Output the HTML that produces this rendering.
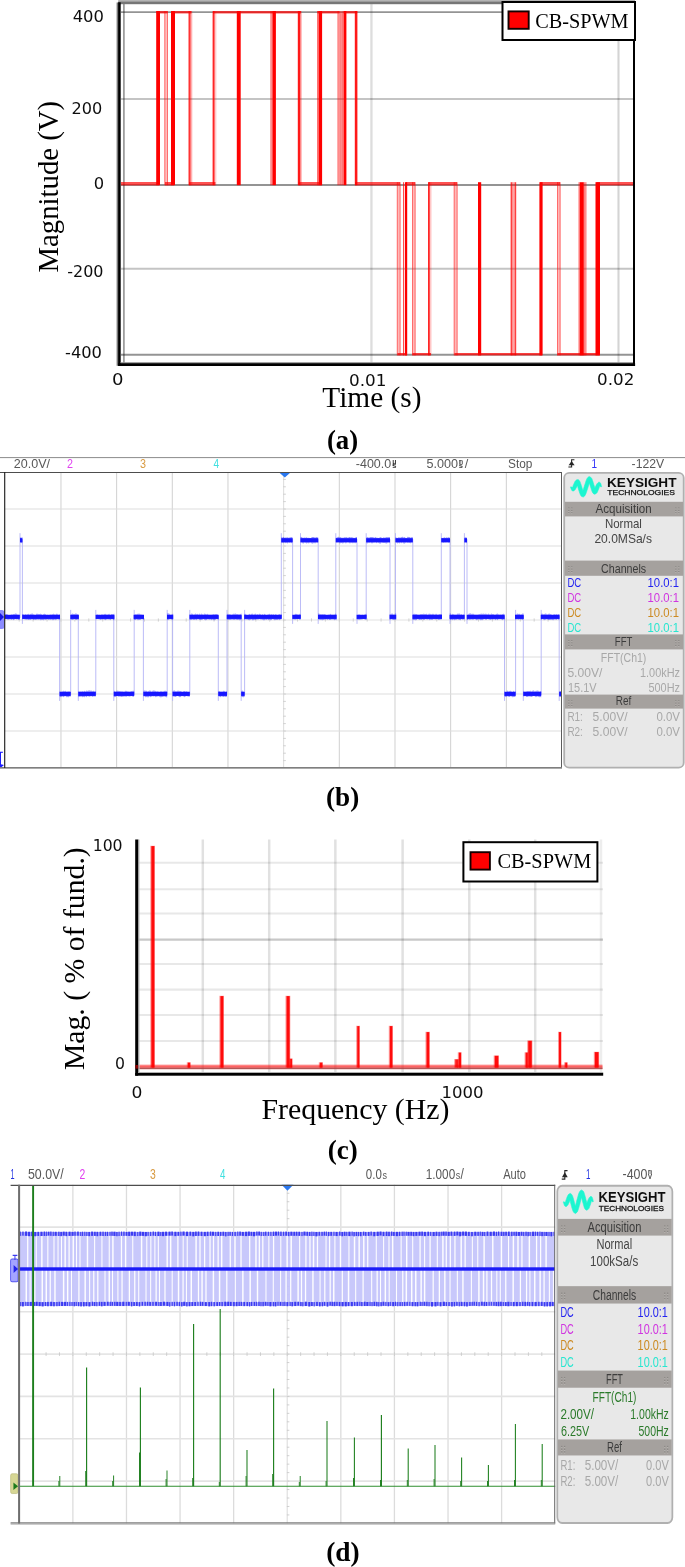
<!DOCTYPE html>
<html lang="en"><head><meta charset="utf-8"><title>CB-SPWM inverter output: simulation and experiment</title>
<style>html,body{margin:0;padding:0;background:#fff}svg{display:block}</style></head><body>
<svg width="685" height="1567" viewBox="0 0 685 1567">
<defs><filter id="soft" x="0" y="0" width="685" height="1567" filterUnits="userSpaceOnUse"><feGaussianBlur stdDeviation="0.42"/></filter></defs>
<rect x="0" y="0" width="685" height="1567" fill="#fff"/>
<g filter="url(#soft)">
<g id="pa">
<line x1="121.00" y1="12.10" x2="633.00" y2="12.10" stroke="#000" stroke-width="1.9" opacity="0.42"/>
<line x1="121.00" y1="98.90" x2="633.00" y2="98.90" stroke="#000" stroke-width="2.0" opacity="0.23"/>
<line x1="121.00" y1="185.00" x2="633.00" y2="185.00" stroke="#000" stroke-width="1.9" opacity="0.42"/>
<line x1="121.00" y1="268.80" x2="633.00" y2="268.80" stroke="#000" stroke-width="2.0" opacity="0.23"/>
<line x1="121.00" y1="354.70" x2="633.00" y2="354.70" stroke="#000" stroke-width="1.9" opacity="0.42"/>
<line x1="123.90" y1="4.00" x2="123.90" y2="363.00" stroke="#000" stroke-width="1.7" opacity="0.4"/>
<line x1="371.45" y1="4.00" x2="371.45" y2="363.00" stroke="#000" stroke-width="2.3" opacity="0.135"/>
<line x1="618.50" y1="4.00" x2="618.50" y2="363.00" stroke="#000" stroke-width="2.1" opacity="0.17"/>
<rect x="156.50" y="11.05" width="11.00" height="2.40" fill="#ff0000" opacity="0.72"/>
<rect x="171.50" y="11.05" width="20.00" height="2.40" fill="#ff0000" opacity="0.72"/>
<rect x="213.00" y="11.05" width="88.00" height="2.40" fill="#ff0000" opacity="0.72"/>
<rect x="317.50" y="11.05" width="22.10" height="2.40" fill="#ff0000" opacity="0.72"/>
<rect x="343.60" y="11.05" width="13.60" height="2.40" fill="#ff0000" opacity="0.72"/>
<rect x="121.00" y="182.00" width="38.00" height="3.40" fill="#ff0000" opacity="0.68"/>
<rect x="165.00" y="182.00" width="9.00" height="3.40" fill="#ff0000" opacity="0.68"/>
<rect x="189.00" y="182.00" width="26.50" height="3.40" fill="#ff0000" opacity="0.68"/>
<rect x="298.50" y="182.00" width="23.50" height="3.40" fill="#ff0000" opacity="0.68"/>
<rect x="355.00" y="182.00" width="45.00" height="3.40" fill="#ff0000" opacity="0.68"/>
<rect x="406.00" y="182.00" width="9.00" height="3.40" fill="#ff0000" opacity="0.68"/>
<rect x="428.50" y="182.00" width="28.50" height="3.40" fill="#ff0000" opacity="0.68"/>
<rect x="540.00" y="182.00" width="20.00" height="3.40" fill="#ff0000" opacity="0.68"/>
<rect x="596.50" y="182.00" width="37.50" height="3.40" fill="#ff0000" opacity="0.68"/>
<rect x="397.50" y="353.00" width="9.50" height="2.40" fill="#ff0000" opacity="0.72"/>
<rect x="412.50" y="353.00" width="18.50" height="2.40" fill="#ff0000" opacity="0.72"/>
<rect x="454.50" y="353.00" width="87.50" height="2.40" fill="#ff0000" opacity="0.72"/>
<rect x="557.50" y="353.00" width="42.00" height="2.40" fill="#ff0000" opacity="0.72"/>
<rect x="156.20" y="11.05" width="3.80" height="174.15" fill="#ff0000" opacity="1"/>
<rect x="164.30" y="11.05" width="3.70" height="174.15" fill="#ff0000" opacity="0.26"/>
<rect x="164.30" y="11.05" width="1.00" height="174.15" fill="#ff0000" opacity="0.42"/>
<rect x="167.00" y="11.05" width="1.00" height="174.15" fill="#ff0000" opacity="0.42"/>
<rect x="171.00" y="11.05" width="4.00" height="174.15" fill="#ff0000" opacity="1"/>
<rect x="188.50" y="11.05" width="2.10" height="174.15" fill="#ff0000" opacity="0.8"/>
<rect x="190.60" y="11.05" width="1.70" height="174.15" fill="#ff0000" opacity="0.3"/>
<rect x="212.60" y="11.05" width="2.00" height="174.15" fill="#ff0000" opacity="0.85"/>
<rect x="214.60" y="11.05" width="1.80" height="174.15" fill="#ff0000" opacity="0.2"/>
<rect x="236.80" y="11.05" width="3.90" height="174.15" fill="#ff0000" opacity="1"/>
<rect x="270.20" y="11.05" width="2.20" height="174.15" fill="#ff0000" opacity="0.45"/>
<rect x="272.40" y="11.05" width="3.50" height="174.15" fill="#ff0000" opacity="1"/>
<rect x="297.80" y="11.05" width="2.60" height="174.15" fill="#ff0000" opacity="0.9"/>
<rect x="300.40" y="11.05" width="1.40" height="174.15" fill="#ff0000" opacity="0.3"/>
<rect x="317.00" y="11.05" width="1.60" height="174.15" fill="#ff0000" opacity="0.55"/>
<rect x="318.60" y="11.05" width="3.50" height="174.15" fill="#ff0000" opacity="1"/>
<rect x="337.30" y="11.05" width="2.10" height="174.15" fill="#ff0000" opacity="0.46"/>
<rect x="339.40" y="11.05" width="2.10" height="174.15" fill="#ff0000" opacity="0.5"/>
<rect x="341.50" y="11.05" width="2.10" height="174.15" fill="#ff0000" opacity="0.54"/>
<rect x="343.60" y="11.05" width="2.80" height="174.15" fill="#ff0000" opacity="1"/>
<rect x="354.80" y="11.05" width="2.60" height="174.15" fill="#ff0000" opacity="0.9"/>
<rect x="396.80" y="182.20" width="3.80" height="173.20" fill="#ff0000" opacity="0.28"/>
<rect x="396.80" y="182.20" width="1.00" height="173.20" fill="#ff0000" opacity="0.42"/>
<rect x="399.60" y="182.20" width="1.00" height="173.20" fill="#ff0000" opacity="0.42"/>
<rect x="403.00" y="182.20" width="1.20" height="173.20" fill="#ff0000" opacity="0.7"/>
<rect x="405.00" y="182.20" width="2.20" height="173.20" fill="#ff0000" opacity="1"/>
<rect x="412.00" y="182.20" width="3.60" height="173.20" fill="#ff0000" opacity="0.28"/>
<rect x="412.00" y="182.20" width="1.00" height="173.20" fill="#ff0000" opacity="0.42"/>
<rect x="414.60" y="182.20" width="1.00" height="173.20" fill="#ff0000" opacity="0.42"/>
<rect x="428.00" y="182.20" width="1.80" height="173.20" fill="#ff0000" opacity="0.85"/>
<rect x="429.80" y="182.20" width="1.70" height="173.20" fill="#ff0000" opacity="0.22"/>
<rect x="453.70" y="182.20" width="3.90" height="173.20" fill="#ff0000" opacity="0.28"/>
<rect x="453.70" y="182.20" width="1.00" height="173.20" fill="#ff0000" opacity="0.42"/>
<rect x="456.60" y="182.20" width="1.00" height="173.20" fill="#ff0000" opacity="0.42"/>
<rect x="478.00" y="182.20" width="3.20" height="173.20" fill="#ff0000" opacity="1"/>
<rect x="510.60" y="182.20" width="1.80" height="173.20" fill="#ff0000" opacity="0.75"/>
<rect x="512.40" y="182.20" width="2.20" height="173.20" fill="#ff0000" opacity="0.35"/>
<rect x="514.60" y="182.20" width="1.60" height="173.20" fill="#ff0000" opacity="0.75"/>
<rect x="539.40" y="182.20" width="3.20" height="173.20" fill="#ff0000" opacity="1"/>
<rect x="557.00" y="182.20" width="3.60" height="173.20" fill="#ff0000" opacity="0.28"/>
<rect x="557.00" y="182.20" width="1.00" height="173.20" fill="#ff0000" opacity="0.42"/>
<rect x="559.60" y="182.20" width="1.00" height="173.20" fill="#ff0000" opacity="0.42"/>
<rect x="578.30" y="182.20" width="1.30" height="173.20" fill="#ff0000" opacity="0.4"/>
<rect x="579.60" y="182.20" width="4.20" height="173.20" fill="#ff0000" opacity="1"/>
<rect x="583.80" y="182.20" width="2.60" height="173.20" fill="#ff0000" opacity="0.25"/>
<rect x="583.80" y="182.20" width="1.00" height="173.20" fill="#ff0000" opacity="0.42"/>
<rect x="585.40" y="182.20" width="1.00" height="173.20" fill="#ff0000" opacity="0.42"/>
<rect x="595.50" y="182.20" width="4.50" height="173.20" fill="#ff0000" opacity="1"/>
<rect x="118.20" y="-1.00" width="516.80" height="2.50" fill="#b4b4b4"/>
<rect x="118.20" y="1.40" width="516.80" height="2.80" fill="#767676"/>
<rect x="116.30" y="2.50" width="0.90" height="363.30" fill="#b4b4b4"/>
<rect x="117.20" y="2.50" width="1.00" height="363.30" fill="#5a5a5a"/>
<rect x="118.10" y="2.30" width="2.60" height="363.60" fill="#000"/>
<rect x="120.60" y="362.20" width="512.40" height="1.00" fill="#8e8e8e"/>
<rect x="118.20" y="363.20" width="516.90" height="2.80" fill="#000"/>
<rect x="633.00" y="1.00" width="2.00" height="365.00" fill="#000"/>
<rect x="502.5" y="2" width="132.5" height="38" fill="#fff" stroke="#000" stroke-width="2"/>
<rect x="508.5" y="11.4" width="20.2" height="17.4" fill="#ff0000" stroke="#140000" stroke-width="1.9"/>
<text x="535.2" y="27.6" font-family="'Liberation Serif','Times New Roman',serif" font-size="20" fill="#000" textLength="93.4" lengthAdjust="spacingAndGlyphs">CB-SPWM</text>
<text x="72.7" y="22.1" font-family="'DejaVu Sans','Liberation Sans',sans-serif" font-size="16.2" fill="#111" textLength="31.3" lengthAdjust="spacingAndGlyphs">400</text>
<text x="71.5" y="114.2" font-family="'DejaVu Sans','Liberation Sans',sans-serif" font-size="16.2" fill="#111" textLength="30.8" lengthAdjust="spacingAndGlyphs">200</text>
<text x="93.8" y="188.9" font-family="'DejaVu Sans','Liberation Sans',sans-serif" font-size="16.2" fill="#111" textLength="10.4" lengthAdjust="spacingAndGlyphs">0</text>
<text x="67.3" y="276.8" font-family="'DejaVu Sans','Liberation Sans',sans-serif" font-size="16.2" fill="#111" textLength="36.2" lengthAdjust="spacingAndGlyphs">-200</text>
<text x="65.0" y="358" font-family="'DejaVu Sans','Liberation Sans',sans-serif" font-size="16.2" fill="#111" textLength="37.0" lengthAdjust="spacingAndGlyphs">-400</text>
<text x="112.0" y="384.6" font-family="'DejaVu Sans','Liberation Sans',sans-serif" font-size="16.2" fill="#111" textLength="11.5" lengthAdjust="spacingAndGlyphs">0</text>
<text x="349.0" y="385.7" font-family="'DejaVu Sans','Liberation Sans',sans-serif" font-size="16.2" fill="#111" textLength="37.5" lengthAdjust="spacingAndGlyphs">0.01</text>
<text x="597.0" y="385.4" font-family="'DejaVu Sans','Liberation Sans',sans-serif" font-size="16.2" fill="#111" textLength="37.3" lengthAdjust="spacingAndGlyphs">0.02</text>
<text x="371.9" y="407" font-family="'Liberation Serif','Times New Roman',serif" font-size="28.5" fill="#000" text-anchor="middle" textLength="99.2" lengthAdjust="spacingAndGlyphs">Time (s)</text>
<text transform="translate(58,186.7) rotate(-90)" font-family="'Liberation Serif','Times New Roman',serif" font-size="28.5" text-anchor="middle" textLength="171.6" lengthAdjust="spacingAndGlyphs">Magnitude (V)</text>
<text x="342.5" y="449.2" font-family="'Liberation Serif','Times New Roman',serif" font-size="26.8" fill="#000" text-anchor="middle" font-weight="bold">(a)</text>
</g>
<g id="pb">
<line x1="0.00" y1="457.60" x2="685.00" y2="457.60" stroke="#8c8c8c" stroke-width="1.0"/>
<line x1="60.97" y1="472.00" x2="60.97" y2="768.00" stroke="#cdcdcd" stroke-width="0.95"/>
<line x1="116.64" y1="472.00" x2="116.64" y2="768.00" stroke="#cdcdcd" stroke-width="0.95"/>
<line x1="172.31" y1="472.00" x2="172.31" y2="768.00" stroke="#cdcdcd" stroke-width="0.95"/>
<line x1="227.98" y1="472.00" x2="227.98" y2="768.00" stroke="#cdcdcd" stroke-width="0.95"/>
<line x1="283.65" y1="472.00" x2="283.65" y2="768.00" stroke="#d8d8d8" stroke-width="0.95"/>
<line x1="339.32" y1="472.00" x2="339.32" y2="768.00" stroke="#cdcdcd" stroke-width="0.95"/>
<line x1="394.99" y1="472.00" x2="394.99" y2="768.00" stroke="#cdcdcd" stroke-width="0.95"/>
<line x1="450.66" y1="472.00" x2="450.66" y2="768.00" stroke="#cdcdcd" stroke-width="0.95"/>
<line x1="506.33" y1="472.00" x2="506.33" y2="768.00" stroke="#cdcdcd" stroke-width="0.95"/>
<line x1="5.00" y1="509.00" x2="562.00" y2="509.00" stroke="#dddddd" stroke-width="1.0"/>
<line x1="5.00" y1="546.00" x2="562.00" y2="546.00" stroke="#dddddd" stroke-width="1.0"/>
<line x1="5.00" y1="583.00" x2="562.00" y2="583.00" stroke="#dddddd" stroke-width="1.0"/>
<line x1="5.00" y1="620.00" x2="562.00" y2="620.00" stroke="#e2e2e2" stroke-width="1.0"/>
<line x1="5.00" y1="657.00" x2="562.00" y2="657.00" stroke="#dddddd" stroke-width="1.0"/>
<line x1="5.00" y1="694.00" x2="562.00" y2="694.00" stroke="#dddddd" stroke-width="1.0"/>
<line x1="5.00" y1="731.00" x2="562.00" y2="731.00" stroke="#dddddd" stroke-width="1.0"/>
<line x1="283.25" y1="479.40" x2="285.85" y2="479.40" stroke="#c8c8c8" stroke-width="0.8"/>
<line x1="283.25" y1="486.80" x2="285.85" y2="486.80" stroke="#c8c8c8" stroke-width="0.8"/>
<line x1="283.25" y1="494.20" x2="285.85" y2="494.20" stroke="#c8c8c8" stroke-width="0.8"/>
<line x1="283.25" y1="501.60" x2="285.85" y2="501.60" stroke="#c8c8c8" stroke-width="0.8"/>
<line x1="283.25" y1="509.00" x2="285.85" y2="509.00" stroke="#c8c8c8" stroke-width="0.8"/>
<line x1="283.25" y1="516.40" x2="285.85" y2="516.40" stroke="#c8c8c8" stroke-width="0.8"/>
<line x1="283.25" y1="523.80" x2="285.85" y2="523.80" stroke="#c8c8c8" stroke-width="0.8"/>
<line x1="283.25" y1="531.20" x2="285.85" y2="531.20" stroke="#c8c8c8" stroke-width="0.8"/>
<line x1="283.25" y1="538.60" x2="285.85" y2="538.60" stroke="#c8c8c8" stroke-width="0.8"/>
<line x1="283.25" y1="546.00" x2="285.85" y2="546.00" stroke="#c8c8c8" stroke-width="0.8"/>
<line x1="283.25" y1="553.40" x2="285.85" y2="553.40" stroke="#c8c8c8" stroke-width="0.8"/>
<line x1="283.25" y1="560.80" x2="285.85" y2="560.80" stroke="#c8c8c8" stroke-width="0.8"/>
<line x1="283.25" y1="568.20" x2="285.85" y2="568.20" stroke="#c8c8c8" stroke-width="0.8"/>
<line x1="283.25" y1="575.60" x2="285.85" y2="575.60" stroke="#c8c8c8" stroke-width="0.8"/>
<line x1="283.25" y1="583.00" x2="285.85" y2="583.00" stroke="#c8c8c8" stroke-width="0.8"/>
<line x1="283.25" y1="590.40" x2="285.85" y2="590.40" stroke="#c8c8c8" stroke-width="0.8"/>
<line x1="283.25" y1="597.80" x2="285.85" y2="597.80" stroke="#c8c8c8" stroke-width="0.8"/>
<line x1="283.25" y1="605.20" x2="285.85" y2="605.20" stroke="#c8c8c8" stroke-width="0.8"/>
<line x1="283.25" y1="612.60" x2="285.85" y2="612.60" stroke="#c8c8c8" stroke-width="0.8"/>
<line x1="283.25" y1="620.00" x2="285.85" y2="620.00" stroke="#c8c8c8" stroke-width="0.8"/>
<line x1="283.25" y1="627.40" x2="285.85" y2="627.40" stroke="#c8c8c8" stroke-width="0.8"/>
<line x1="283.25" y1="634.80" x2="285.85" y2="634.80" stroke="#c8c8c8" stroke-width="0.8"/>
<line x1="283.25" y1="642.20" x2="285.85" y2="642.20" stroke="#c8c8c8" stroke-width="0.8"/>
<line x1="283.25" y1="649.60" x2="285.85" y2="649.60" stroke="#c8c8c8" stroke-width="0.8"/>
<line x1="283.25" y1="657.00" x2="285.85" y2="657.00" stroke="#c8c8c8" stroke-width="0.8"/>
<line x1="283.25" y1="664.40" x2="285.85" y2="664.40" stroke="#c8c8c8" stroke-width="0.8"/>
<line x1="283.25" y1="671.80" x2="285.85" y2="671.80" stroke="#c8c8c8" stroke-width="0.8"/>
<line x1="283.25" y1="679.20" x2="285.85" y2="679.20" stroke="#c8c8c8" stroke-width="0.8"/>
<line x1="283.25" y1="686.60" x2="285.85" y2="686.60" stroke="#c8c8c8" stroke-width="0.8"/>
<line x1="283.25" y1="694.00" x2="285.85" y2="694.00" stroke="#c8c8c8" stroke-width="0.8"/>
<line x1="283.25" y1="701.40" x2="285.85" y2="701.40" stroke="#c8c8c8" stroke-width="0.8"/>
<line x1="283.25" y1="708.80" x2="285.85" y2="708.80" stroke="#c8c8c8" stroke-width="0.8"/>
<line x1="283.25" y1="716.20" x2="285.85" y2="716.20" stroke="#c8c8c8" stroke-width="0.8"/>
<line x1="283.25" y1="723.60" x2="285.85" y2="723.60" stroke="#c8c8c8" stroke-width="0.8"/>
<line x1="283.25" y1="731.00" x2="285.85" y2="731.00" stroke="#c8c8c8" stroke-width="0.8"/>
<line x1="283.25" y1="738.40" x2="285.85" y2="738.40" stroke="#c8c8c8" stroke-width="0.8"/>
<line x1="283.25" y1="745.80" x2="285.85" y2="745.80" stroke="#c8c8c8" stroke-width="0.8"/>
<line x1="283.25" y1="753.20" x2="285.85" y2="753.20" stroke="#c8c8c8" stroke-width="0.8"/>
<line x1="283.25" y1="760.60" x2="285.85" y2="760.60" stroke="#c8c8c8" stroke-width="0.8"/>
<line x1="19.22" y1="618.40" x2="19.22" y2="621.60" stroke="#c8c8c8" stroke-width="0.8"/>
<line x1="33.13" y1="618.40" x2="33.13" y2="621.60" stroke="#c8c8c8" stroke-width="0.8"/>
<line x1="47.05" y1="618.40" x2="47.05" y2="621.60" stroke="#c8c8c8" stroke-width="0.8"/>
<line x1="60.97" y1="618.40" x2="60.97" y2="621.60" stroke="#c8c8c8" stroke-width="0.8"/>
<line x1="74.89" y1="618.40" x2="74.89" y2="621.60" stroke="#c8c8c8" stroke-width="0.8"/>
<line x1="88.80" y1="618.40" x2="88.80" y2="621.60" stroke="#c8c8c8" stroke-width="0.8"/>
<line x1="102.72" y1="618.40" x2="102.72" y2="621.60" stroke="#c8c8c8" stroke-width="0.8"/>
<line x1="116.64" y1="618.40" x2="116.64" y2="621.60" stroke="#c8c8c8" stroke-width="0.8"/>
<line x1="130.56" y1="618.40" x2="130.56" y2="621.60" stroke="#c8c8c8" stroke-width="0.8"/>
<line x1="144.48" y1="618.40" x2="144.48" y2="621.60" stroke="#c8c8c8" stroke-width="0.8"/>
<line x1="158.39" y1="618.40" x2="158.39" y2="621.60" stroke="#c8c8c8" stroke-width="0.8"/>
<line x1="172.31" y1="618.40" x2="172.31" y2="621.60" stroke="#c8c8c8" stroke-width="0.8"/>
<line x1="186.23" y1="618.40" x2="186.23" y2="621.60" stroke="#c8c8c8" stroke-width="0.8"/>
<line x1="200.15" y1="618.40" x2="200.15" y2="621.60" stroke="#c8c8c8" stroke-width="0.8"/>
<line x1="214.06" y1="618.40" x2="214.06" y2="621.60" stroke="#c8c8c8" stroke-width="0.8"/>
<line x1="227.98" y1="618.40" x2="227.98" y2="621.60" stroke="#c8c8c8" stroke-width="0.8"/>
<line x1="241.90" y1="618.40" x2="241.90" y2="621.60" stroke="#c8c8c8" stroke-width="0.8"/>
<line x1="255.82" y1="618.40" x2="255.82" y2="621.60" stroke="#c8c8c8" stroke-width="0.8"/>
<line x1="269.73" y1="618.40" x2="269.73" y2="621.60" stroke="#c8c8c8" stroke-width="0.8"/>
<line x1="283.65" y1="618.40" x2="283.65" y2="621.60" stroke="#c8c8c8" stroke-width="0.8"/>
<line x1="297.57" y1="618.40" x2="297.57" y2="621.60" stroke="#c8c8c8" stroke-width="0.8"/>
<line x1="311.49" y1="618.40" x2="311.49" y2="621.60" stroke="#c8c8c8" stroke-width="0.8"/>
<line x1="325.40" y1="618.40" x2="325.40" y2="621.60" stroke="#c8c8c8" stroke-width="0.8"/>
<line x1="339.32" y1="618.40" x2="339.32" y2="621.60" stroke="#c8c8c8" stroke-width="0.8"/>
<line x1="353.24" y1="618.40" x2="353.24" y2="621.60" stroke="#c8c8c8" stroke-width="0.8"/>
<line x1="367.16" y1="618.40" x2="367.16" y2="621.60" stroke="#c8c8c8" stroke-width="0.8"/>
<line x1="381.07" y1="618.40" x2="381.07" y2="621.60" stroke="#c8c8c8" stroke-width="0.8"/>
<line x1="394.99" y1="618.40" x2="394.99" y2="621.60" stroke="#c8c8c8" stroke-width="0.8"/>
<line x1="408.91" y1="618.40" x2="408.91" y2="621.60" stroke="#c8c8c8" stroke-width="0.8"/>
<line x1="422.83" y1="618.40" x2="422.83" y2="621.60" stroke="#c8c8c8" stroke-width="0.8"/>
<line x1="436.74" y1="618.40" x2="436.74" y2="621.60" stroke="#c8c8c8" stroke-width="0.8"/>
<line x1="450.66" y1="618.40" x2="450.66" y2="621.60" stroke="#c8c8c8" stroke-width="0.8"/>
<line x1="464.58" y1="618.40" x2="464.58" y2="621.60" stroke="#c8c8c8" stroke-width="0.8"/>
<line x1="478.50" y1="618.40" x2="478.50" y2="621.60" stroke="#c8c8c8" stroke-width="0.8"/>
<line x1="492.41" y1="618.40" x2="492.41" y2="621.60" stroke="#c8c8c8" stroke-width="0.8"/>
<line x1="506.33" y1="618.40" x2="506.33" y2="621.60" stroke="#c8c8c8" stroke-width="0.8"/>
<line x1="520.25" y1="618.40" x2="520.25" y2="621.60" stroke="#c8c8c8" stroke-width="0.8"/>
<line x1="534.16" y1="618.40" x2="534.16" y2="621.60" stroke="#c8c8c8" stroke-width="0.8"/>
<line x1="548.08" y1="618.40" x2="548.08" y2="621.60" stroke="#c8c8c8" stroke-width="0.8"/>
<line x1="20.00" y1="533.20" x2="20.00" y2="617.90" stroke="#b4b4f6" stroke-width="0.9"/>
<line x1="22.40" y1="539.20" x2="22.40" y2="623.90" stroke="#b4b4f6" stroke-width="0.9"/>
<line x1="281.30" y1="533.20" x2="281.30" y2="617.90" stroke="#b4b4f6" stroke-width="0.9"/>
<line x1="292.60" y1="539.20" x2="292.60" y2="623.90" stroke="#b4b4f6" stroke-width="0.9"/>
<line x1="300.50" y1="533.20" x2="300.50" y2="617.90" stroke="#b4b4f6" stroke-width="0.9"/>
<line x1="318.20" y1="539.20" x2="318.20" y2="623.90" stroke="#b4b4f6" stroke-width="0.9"/>
<line x1="335.80" y1="533.20" x2="335.80" y2="617.90" stroke="#b4b4f6" stroke-width="0.9"/>
<line x1="357.00" y1="539.20" x2="357.00" y2="623.90" stroke="#b4b4f6" stroke-width="0.9"/>
<line x1="366.20" y1="533.20" x2="366.20" y2="617.90" stroke="#b4b4f6" stroke-width="0.9"/>
<line x1="390.00" y1="539.20" x2="390.00" y2="623.90" stroke="#b4b4f6" stroke-width="0.9"/>
<line x1="395.50" y1="533.20" x2="395.50" y2="617.90" stroke="#b4b4f6" stroke-width="0.9"/>
<line x1="412.80" y1="539.20" x2="412.80" y2="623.90" stroke="#b4b4f6" stroke-width="0.9"/>
<line x1="441.30" y1="533.20" x2="441.30" y2="617.90" stroke="#b4b4f6" stroke-width="0.9"/>
<line x1="450.00" y1="539.20" x2="450.00" y2="623.90" stroke="#b4b4f6" stroke-width="0.9"/>
<line x1="464.40" y1="533.20" x2="464.40" y2="617.90" stroke="#b4b4f6" stroke-width="0.9"/>
<line x1="467.00" y1="539.20" x2="467.00" y2="623.90" stroke="#b4b4f6" stroke-width="0.9"/>
<line x1="59.60" y1="615.90" x2="59.60" y2="700.90" stroke="#b4b4f6" stroke-width="0.9"/>
<line x1="70.70" y1="609.90" x2="70.70" y2="694.90" stroke="#b4b4f6" stroke-width="0.9"/>
<line x1="78.30" y1="615.90" x2="78.30" y2="700.90" stroke="#b4b4f6" stroke-width="0.9"/>
<line x1="95.80" y1="609.90" x2="95.80" y2="694.90" stroke="#b4b4f6" stroke-width="0.9"/>
<line x1="113.80" y1="615.90" x2="113.80" y2="700.90" stroke="#b4b4f6" stroke-width="0.9"/>
<line x1="134.20" y1="609.90" x2="134.20" y2="694.90" stroke="#b4b4f6" stroke-width="0.9"/>
<line x1="143.40" y1="615.90" x2="143.40" y2="700.90" stroke="#b4b4f6" stroke-width="0.9"/>
<line x1="167.20" y1="609.90" x2="167.20" y2="694.90" stroke="#b4b4f6" stroke-width="0.9"/>
<line x1="172.60" y1="615.90" x2="172.60" y2="700.90" stroke="#b4b4f6" stroke-width="0.9"/>
<line x1="189.80" y1="609.90" x2="189.80" y2="694.90" stroke="#b4b4f6" stroke-width="0.9"/>
<line x1="218.30" y1="615.90" x2="218.30" y2="700.90" stroke="#b4b4f6" stroke-width="0.9"/>
<line x1="227.00" y1="609.90" x2="227.00" y2="694.90" stroke="#b4b4f6" stroke-width="0.9"/>
<line x1="241.20" y1="615.90" x2="241.20" y2="700.90" stroke="#b4b4f6" stroke-width="0.9"/>
<line x1="244.60" y1="609.90" x2="244.60" y2="694.90" stroke="#b4b4f6" stroke-width="0.9"/>
<line x1="504.50" y1="615.90" x2="504.50" y2="700.90" stroke="#b4b4f6" stroke-width="0.9"/>
<line x1="515.60" y1="609.90" x2="515.60" y2="694.90" stroke="#b4b4f6" stroke-width="0.9"/>
<line x1="523.30" y1="615.90" x2="523.30" y2="700.90" stroke="#b4b4f6" stroke-width="0.9"/>
<line x1="541.20" y1="609.90" x2="541.20" y2="694.90" stroke="#b4b4f6" stroke-width="0.9"/>
<line x1="559.20" y1="615.90" x2="559.20" y2="700.90" stroke="#b4b4f6" stroke-width="0.9"/>
<polygon points="5.0,614.3 6.1,613.9 7.1,614.1 8.2,614.7 9.2,614.7 10.3,614.7 11.3,614.2 12.4,614.6 13.5,614.0 14.5,614.0 15.6,613.5 16.6,613.7 17.7,614.6 18.7,614.4 19.8,614.5 19.8,619.8 18.7,620.1 17.7,619.2 16.6,619.4 15.6,619.1 14.5,619.5 13.5,620.2 12.4,619.3 11.3,620.1 10.3,619.2 9.2,619.6 8.2,619.7 7.1,619.5 6.1,619.1 5.0,619.2" fill="#2a2aff" opacity="0.5"/>
<rect x="5.00" y="614.90" width="14.80" height="4.00" fill="#1414ff"/>
<polygon points="22.2,614.0 23.2,614.1 24.2,614.7 25.3,613.9 26.3,614.4 27.3,614.2 28.3,613.8 29.4,614.4 30.4,614.1 31.4,613.8 32.4,613.5 33.4,614.2 34.5,614.6 35.5,614.7 36.5,613.8 37.5,613.7 38.5,613.9 39.6,614.0 40.6,613.7 41.6,614.2 42.6,614.7 43.7,613.9 44.7,613.7 45.7,614.3 46.7,614.7 47.7,614.5 48.8,614.7 49.8,614.6 50.8,614.3 51.8,614.6 52.8,614.1 53.9,613.7 54.9,614.4 55.9,614.3 56.9,613.6 58.0,614.5 59.0,614.5 60.0,614.0 60.0,619.4 59.0,619.7 58.0,619.3 56.9,619.2 55.9,620.2 54.9,619.6 53.9,620.1 52.8,620.2 51.8,619.6 50.8,620.1 49.8,619.4 48.8,620.0 47.7,619.2 46.7,619.6 45.7,619.9 44.7,619.4 43.7,620.3 42.6,619.9 41.6,619.9 40.6,620.2 39.6,619.6 38.5,619.8 37.5,619.4 36.5,619.8 35.5,619.9 34.5,619.7 33.4,620.0 32.4,619.2 31.4,619.4 30.4,620.1 29.4,619.8 28.3,619.9 27.3,619.4 26.3,619.8 25.3,619.6 24.2,619.3 23.2,619.1 22.2,619.5" fill="#2a2aff" opacity="0.5"/>
<rect x="22.20" y="614.90" width="37.80" height="4.00" fill="#1414ff"/>
<polygon points="70.4,614.7 71.5,614.3 72.5,613.6 73.5,614.1 74.6,613.9 75.7,613.6 76.7,613.7 77.8,614.3 78.8,614.6 78.8,619.8 77.8,619.5 76.7,620.0 75.7,620.0 74.6,619.1 73.5,619.8 72.5,619.9 71.5,619.8 70.4,619.6" fill="#2a2aff" opacity="0.5"/>
<rect x="70.40" y="614.90" width="8.40" height="4.00" fill="#1414ff"/>
<polygon points="95.7,614.7 96.7,614.5 97.8,614.3 98.8,614.7 99.9,614.6 100.9,614.7 101.9,614.0 103.0,614.4 104.0,614.3 105.1,613.7 106.1,614.2 107.1,614.6 108.2,614.3 109.2,613.7 110.2,614.7 111.3,614.1 112.3,614.1 113.4,614.1 114.4,613.7 114.4,619.9 113.4,620.3 112.3,619.1 111.3,619.2 110.2,620.2 109.2,619.3 108.2,619.4 107.1,619.2 106.1,619.7 105.1,620.3 104.0,619.2 103.0,619.5 101.9,619.2 100.9,620.1 99.9,619.5 98.8,619.2 97.8,619.1 96.7,619.3 95.7,619.1" fill="#2a2aff" opacity="0.5"/>
<rect x="95.70" y="614.90" width="18.70" height="4.00" fill="#1414ff"/>
<polygon points="133.7,614.4 134.7,614.5 135.8,614.1 136.8,614.3 137.8,613.7 138.8,613.7 139.9,613.7 140.9,614.5 141.9,614.3 143.0,614.7 144.0,614.4 144.0,619.9 143.0,619.4 141.9,619.1 140.9,619.7 139.9,620.0 138.8,620.1 137.8,620.3 136.8,619.3 135.8,620.0 134.7,620.0 133.7,619.5" fill="#2a2aff" opacity="0.5"/>
<rect x="133.70" y="614.90" width="10.30" height="4.00" fill="#1414ff"/>
<polygon points="167.0,613.6 168.0,613.6 169.1,613.6 170.1,614.5 171.1,614.5 172.2,614.0 173.2,613.7 173.2,619.6 172.2,620.2 171.1,619.3 170.1,619.3 169.1,619.5 168.0,620.3 167.0,619.6" fill="#2a2aff" opacity="0.5"/>
<rect x="167.00" y="614.90" width="6.20" height="4.00" fill="#1414ff"/>
<polygon points="189.5,613.9 190.5,614.6 191.5,613.6 192.5,613.8 193.5,614.5 194.5,614.3 195.5,613.5 196.5,614.2 197.5,613.8 198.5,614.6 199.5,613.6 200.5,614.6 201.5,613.5 202.5,614.3 203.5,614.6 204.6,613.5 205.6,614.1 206.6,614.2 207.6,613.7 208.6,614.4 209.6,614.4 210.6,614.4 211.6,614.6 212.6,614.3 213.6,614.0 214.6,614.2 215.6,614.1 216.6,614.1 217.6,614.2 218.6,614.7 218.6,620.0 217.6,619.3 216.6,619.1 215.6,619.7 214.6,620.2 213.6,620.2 212.6,619.6 211.6,620.2 210.6,619.6 209.6,619.8 208.6,619.4 207.6,619.3 206.6,620.1 205.6,620.2 204.6,619.9 203.5,619.1 202.5,619.7 201.5,619.9 200.5,620.1 199.5,620.1 198.5,619.2 197.5,619.3 196.5,620.2 195.5,619.5 194.5,620.1 193.5,620.0 192.5,619.6 191.5,620.0 190.5,619.9 189.5,620.0" fill="#2a2aff" opacity="0.5"/>
<rect x="189.50" y="614.90" width="29.10" height="4.00" fill="#1414ff"/>
<polygon points="226.8,614.5 227.9,613.8 228.9,614.3 230.0,614.1 231.0,614.6 232.1,614.4 233.1,613.8 234.2,614.0 235.3,613.6 236.3,614.0 237.4,614.1 238.4,614.2 239.5,614.2 240.5,613.9 241.6,613.6 241.6,619.4 240.5,620.1 239.5,620.2 238.4,619.7 237.4,619.9 236.3,619.7 235.3,619.6 234.2,620.0 233.1,619.7 232.1,619.4 231.0,619.8 230.0,620.0 228.9,619.7 227.9,619.7 226.8,619.6" fill="#2a2aff" opacity="0.5"/>
<rect x="226.80" y="614.90" width="14.80" height="4.00" fill="#1414ff"/>
<polygon points="244.2,614.1 245.2,613.7 246.2,614.6 247.2,614.7 248.3,614.7 249.3,613.8 250.3,614.6 251.3,613.9 252.3,613.6 253.3,614.5 254.3,614.3 255.3,613.5 256.4,614.5 257.4,614.1 258.4,614.5 259.4,613.8 260.4,614.1 261.4,614.7 262.4,614.0 263.5,614.7 264.5,613.8 265.5,614.6 266.5,614.7 267.5,614.4 268.5,614.2 269.5,613.7 270.6,614.6 271.6,614.0 272.6,614.6 273.6,613.9 274.6,614.7 275.6,614.0 276.6,614.6 277.6,614.7 278.7,614.2 279.7,614.1 280.7,614.4 281.7,614.1 281.7,619.3 280.7,619.2 279.7,620.2 278.7,619.5 277.6,620.1 276.6,620.1 275.6,620.1 274.6,620.2 273.6,619.6 272.6,619.1 271.6,619.9 270.6,620.2 269.5,619.4 268.5,620.2 267.5,619.2 266.5,620.0 265.5,619.4 264.5,620.3 263.5,620.3 262.4,619.7 261.4,619.5 260.4,619.6 259.4,619.1 258.4,619.4 257.4,619.5 256.4,619.6 255.3,620.1 254.3,619.7 253.3,620.2 252.3,620.3 251.3,619.2 250.3,619.9 249.3,620.2 248.3,619.9 247.2,619.4 246.2,619.6 245.2,619.2 244.2,620.2" fill="#2a2aff" opacity="0.5"/>
<rect x="244.20" y="614.90" width="37.50" height="4.00" fill="#1414ff"/>
<polygon points="292.4,614.6 293.4,614.7 294.5,614.4 295.6,613.8 296.6,614.1 297.6,614.3 298.7,614.4 299.8,613.8 300.8,614.5 300.8,619.6 299.8,619.7 298.7,619.1 297.6,619.1 296.6,619.3 295.6,619.4 294.5,619.4 293.4,619.3 292.4,619.3" fill="#2a2aff" opacity="0.5"/>
<rect x="292.40" y="614.90" width="8.40" height="4.00" fill="#1414ff"/>
<polygon points="318.0,613.6 319.0,613.7 320.1,614.1 321.1,614.3 322.1,613.9 323.2,614.3 324.2,613.9 325.2,614.2 326.3,614.7 327.3,614.7 328.3,614.4 329.4,614.6 330.4,613.7 331.4,614.4 332.5,614.4 333.5,614.6 334.5,614.4 335.6,613.5 336.6,614.4 336.6,620.3 335.6,619.7 334.5,620.3 333.5,619.6 332.5,619.6 331.4,619.4 330.4,619.9 329.4,620.1 328.3,619.3 327.3,620.0 326.3,619.2 325.2,619.5 324.2,619.8 323.2,620.1 322.1,620.3 321.1,619.7 320.1,620.1 319.0,619.6 318.0,619.2" fill="#2a2aff" opacity="0.5"/>
<rect x="318.00" y="614.90" width="18.60" height="4.00" fill="#1414ff"/>
<polygon points="356.7,614.4 357.8,614.7 358.9,614.2 360.0,614.5 361.1,614.7 362.2,614.6 363.3,614.7 364.4,614.4 365.5,614.0 366.6,613.8 366.6,619.9 365.5,619.7 364.4,619.3 363.3,619.1 362.2,619.5 361.1,619.4 360.0,619.7 358.9,619.7 357.8,619.5 356.7,619.5" fill="#2a2aff" opacity="0.5"/>
<rect x="356.70" y="614.90" width="9.90" height="4.00" fill="#1414ff"/>
<polygon points="389.6,613.9 390.7,614.3 391.8,613.5 392.9,613.8 394.0,614.7 395.1,613.6 396.2,613.8 396.2,620.1 395.1,619.8 394.0,620.1 392.9,619.9 391.8,619.2 390.7,619.5 389.6,620.1" fill="#2a2aff" opacity="0.5"/>
<rect x="389.60" y="614.90" width="6.60" height="4.00" fill="#1414ff"/>
<polygon points="412.5,614.6 413.5,614.1 414.5,613.7 415.6,614.0 416.6,613.9 417.6,614.5 418.6,614.6 419.6,614.6 420.6,614.1 421.7,614.0 422.7,614.1 423.7,613.8 424.7,614.1 425.7,613.9 426.7,613.8 427.8,614.7 428.8,613.8 429.8,613.8 430.8,614.1 431.8,614.2 432.8,613.8 433.9,613.9 434.9,614.6 435.9,613.8 436.9,614.0 437.9,614.7 438.9,613.9 440.0,613.9 441.0,614.1 442.0,614.2 442.0,619.2 441.0,619.6 440.0,619.4 438.9,619.9 437.9,619.4 436.9,619.1 435.9,619.4 434.9,619.4 433.9,619.1 432.8,619.8 431.8,619.9 430.8,619.5 429.8,620.3 428.8,619.3 427.8,619.4 426.7,619.4 425.7,619.1 424.7,619.7 423.7,620.0 422.7,619.1 421.7,619.9 420.6,619.8 419.6,620.1 418.6,619.5 417.6,619.1 416.6,619.9 415.6,620.2 414.5,620.1 413.5,620.1 412.5,619.7" fill="#2a2aff" opacity="0.5"/>
<rect x="412.50" y="614.90" width="29.50" height="4.00" fill="#1414ff"/>
<polygon points="449.6,613.6 450.6,613.5 451.6,614.7 452.6,613.7 453.6,614.2 454.6,614.5 455.6,614.5 456.6,614.6 457.6,613.6 458.6,613.7 459.6,613.6 460.6,614.5 461.6,614.1 462.6,614.7 463.6,614.2 464.6,614.6 464.6,619.5 463.6,619.4 462.6,619.7 461.6,619.1 460.6,620.2 459.6,619.9 458.6,619.7 457.6,619.2 456.6,619.7 455.6,619.8 454.6,620.2 453.6,619.4 452.6,620.3 451.6,619.6 450.6,620.2 449.6,619.3" fill="#2a2aff" opacity="0.5"/>
<rect x="449.60" y="614.90" width="15.00" height="4.00" fill="#1414ff"/>
<polygon points="466.8,614.4 467.8,614.7 468.8,613.7 469.9,613.6 470.9,613.6 471.9,614.3 472.9,613.5 474.0,614.3 475.0,614.4 476.0,614.6 477.0,614.4 478.0,614.4 479.1,614.1 480.1,614.3 481.1,613.6 482.1,614.0 483.1,613.6 484.2,613.9 485.2,613.8 486.2,613.8 487.2,614.4 488.3,613.6 489.3,614.2 490.3,614.4 491.3,613.5 492.3,613.9 493.4,614.1 494.4,614.5 495.4,614.5 496.4,614.1 497.4,613.6 498.5,614.2 499.5,614.5 500.5,614.3 501.5,614.5 502.6,614.0 503.6,613.8 504.6,614.2 504.6,619.7 503.6,619.6 502.6,620.2 501.5,619.4 500.5,619.2 499.5,619.2 498.5,619.2 497.4,620.3 496.4,619.3 495.4,620.2 494.4,619.3 493.4,619.5 492.3,619.4 491.3,619.4 490.3,620.0 489.3,619.5 488.3,619.2 487.2,619.1 486.2,619.9 485.2,619.6 484.2,619.1 483.1,619.7 482.1,620.2 481.1,620.1 480.1,620.2 479.1,619.3 478.0,619.4 477.0,620.2 476.0,620.1 475.0,619.1 474.0,619.6 472.9,619.8 471.9,619.5 470.9,619.4 469.9,619.9 468.8,619.2 467.8,620.0 466.8,620.1" fill="#2a2aff" opacity="0.5"/>
<rect x="466.80" y="614.90" width="37.80" height="4.00" fill="#1414ff"/>
<polygon points="515.0,614.3 516.1,614.7 517.2,613.5 518.3,614.1 519.4,613.7 520.4,614.4 521.5,614.3 522.6,613.6 523.7,613.7 523.7,619.1 522.6,620.1 521.5,619.6 520.4,619.4 519.4,619.3 518.3,619.8 517.2,619.2 516.1,619.4 515.0,619.5" fill="#2a2aff" opacity="0.5"/>
<rect x="515.00" y="614.90" width="8.70" height="4.00" fill="#1414ff"/>
<polygon points="540.8,614.7 541.8,613.6 542.9,614.0 543.9,614.3 545.0,613.7 546.0,613.5 547.0,614.6 548.1,614.1 549.1,613.6 550.1,613.9 551.2,614.2 552.2,614.7 553.3,614.5 554.3,613.9 555.3,614.6 556.4,614.0 557.4,614.6 558.5,614.1 559.5,614.3 559.5,619.3 558.5,619.8 557.4,619.1 556.4,619.9 555.3,619.4 554.3,619.4 553.3,620.2 552.2,620.0 551.2,619.7 550.1,620.0 549.1,620.0 548.1,619.9 547.0,619.2 546.0,619.4 545.0,620.1 543.9,620.2 542.9,619.1 541.8,619.6 540.8,619.9" fill="#2a2aff" opacity="0.5"/>
<rect x="540.80" y="614.90" width="18.70" height="4.00" fill="#1414ff"/>
<polygon points="20.0,537.3 21.2,537.7 22.4,536.9 22.4,543.2 21.2,542.9 20.0,542.4" fill="#2a2aff" opacity="0.5"/>
<rect x="20.00" y="538.20" width="2.40" height="4.00" fill="#1414ff"/>
<polygon points="281.3,536.9 282.3,537.8 283.4,536.8 284.4,537.7 285.4,537.4 286.4,537.5 287.5,537.2 288.5,537.8 289.5,537.6 290.5,537.2 291.6,537.1 292.6,537.4 292.6,542.6 291.6,543.3 290.5,542.6 289.5,542.9 288.5,542.4 287.5,543.5 286.4,542.7 285.4,543.2 284.4,542.4 283.4,543.2 282.3,542.7 281.3,542.9" fill="#2a2aff" opacity="0.5"/>
<rect x="281.30" y="538.20" width="11.30" height="4.00" fill="#1414ff"/>
<polygon points="300.5,536.8 301.5,537.0 302.6,537.8 303.6,537.7 304.7,537.4 305.7,537.8 306.7,537.2 307.8,537.9 308.8,537.8 309.9,537.9 310.9,538.0 312.0,536.9 313.0,537.1 314.0,536.9 315.1,537.8 316.1,537.1 317.2,537.2 318.2,537.6 318.2,542.8 317.2,542.8 316.1,542.4 315.1,543.5 314.0,542.8 313.0,543.6 312.0,543.5 310.9,542.8 309.9,542.4 308.8,543.6 307.8,542.8 306.7,543.5 305.7,542.9 304.7,542.6 303.6,543.5 302.6,543.3 301.5,542.6 300.5,542.7" fill="#2a2aff" opacity="0.5"/>
<rect x="300.50" y="538.20" width="17.70" height="4.00" fill="#1414ff"/>
<polygon points="335.8,537.8 336.8,537.7 337.8,536.9 338.8,536.8 339.8,537.6 340.8,537.0 341.9,538.0 342.9,537.6 343.9,537.8 344.9,536.9 345.9,537.5 346.9,537.1 347.9,538.0 348.9,536.9 349.9,537.1 350.9,537.6 352.0,536.9 353.0,537.7 354.0,537.7 355.0,538.0 356.0,536.9 357.0,536.9 357.0,542.4 356.0,543.1 355.0,543.3 354.0,542.7 353.0,543.2 352.0,543.1 350.9,542.7 349.9,543.5 348.9,542.7 347.9,542.4 346.9,542.4 345.9,543.4 344.9,542.4 343.9,542.8 342.9,543.5 341.9,542.9 340.8,542.9 339.8,543.4 338.8,542.6 337.8,542.5 336.8,542.8 335.8,542.4" fill="#2a2aff" opacity="0.5"/>
<rect x="335.80" y="538.20" width="21.20" height="4.00" fill="#1414ff"/>
<polygon points="366.2,537.8 367.2,536.9 368.3,537.6 369.3,537.5 370.3,536.9 371.4,537.0 372.4,537.0 373.4,537.3 374.5,537.7 375.5,537.1 376.5,537.8 377.6,537.7 378.6,538.0 379.7,537.6 380.7,536.9 381.7,537.7 382.8,537.9 383.8,537.2 384.8,537.8 385.9,537.3 386.9,537.1 387.9,537.2 389.0,537.0 390.0,537.3 390.0,542.8 389.0,542.7 387.9,542.5 386.9,543.4 385.9,543.2 384.8,542.9 383.8,542.9 382.8,543.0 381.7,542.5 380.7,543.6 379.7,543.6 378.6,543.0 377.6,542.4 376.5,543.3 375.5,542.4 374.5,542.8 373.4,542.8 372.4,543.3 371.4,543.3 370.3,542.6 369.3,543.0 368.3,542.7 367.2,543.5 366.2,542.9" fill="#2a2aff" opacity="0.5"/>
<rect x="366.20" y="538.20" width="23.80" height="4.00" fill="#1414ff"/>
<polygon points="395.5,537.1 396.5,537.7 397.5,537.9 398.6,537.3 399.6,537.6 400.6,537.4 401.6,537.0 402.6,536.8 403.6,537.5 404.7,537.0 405.7,538.0 406.7,537.9 407.7,536.8 408.7,536.9 409.7,537.0 410.8,537.7 411.8,536.9 412.8,537.3 412.8,543.1 411.8,542.5 410.8,543.3 409.7,542.9 408.7,542.8 407.7,543.1 406.7,542.6 405.7,542.7 404.7,543.5 403.6,543.4 402.6,542.5 401.6,543.2 400.6,542.6 399.6,543.6 398.6,542.8 397.5,543.5 396.5,542.7 395.5,542.6" fill="#2a2aff" opacity="0.5"/>
<rect x="395.50" y="538.20" width="17.30" height="4.00" fill="#1414ff"/>
<polygon points="441.3,537.8 442.4,537.9 443.5,537.7 444.6,537.2 445.6,538.0 446.7,537.2 447.8,537.7 448.9,537.1 450.0,538.0 450.0,542.5 448.9,543.0 447.8,542.6 446.7,542.6 445.6,542.8 444.6,542.6 443.5,543.1 442.4,542.6 441.3,542.8" fill="#2a2aff" opacity="0.5"/>
<rect x="441.30" y="538.20" width="8.70" height="4.00" fill="#1414ff"/>
<polygon points="464.4,537.6 465.7,537.3 467.0,537.8 467.0,543.2 465.7,542.5 464.4,543.0" fill="#2a2aff" opacity="0.5"/>
<rect x="464.40" y="538.20" width="2.60" height="4.00" fill="#1414ff"/>
<polygon points="59.6,691.2 60.6,691.4 61.6,691.4 62.6,691.3 63.6,690.7 64.6,691.3 65.7,690.8 66.7,691.7 67.7,691.2 68.7,691.2 69.7,691.2 70.7,691.7 70.7,696.7 69.7,696.3 68.7,697.2 67.7,697.1 66.7,697.2 65.7,696.3 64.6,696.3 63.6,697.3 62.6,696.6 61.6,696.8 60.6,697.2 59.6,696.4" fill="#2a2aff" opacity="0.5"/>
<rect x="59.60" y="691.90" width="11.10" height="4.00" fill="#1414ff"/>
<polygon points="78.3,690.9 79.3,691.6 80.4,691.3 81.4,691.6 82.4,691.1 83.4,691.6 84.5,690.7 85.5,691.5 86.5,690.6 87.6,691.1 88.6,690.6 89.6,690.6 90.7,690.7 91.7,690.8 92.7,691.2 93.7,690.7 94.8,691.5 95.8,691.1 95.8,696.5 94.8,696.5 93.7,696.3 92.7,697.1 91.7,696.3 90.7,696.3 89.6,696.8 88.6,696.5 87.6,696.1 86.5,697.3 85.5,696.2 84.5,697.3 83.4,696.7 82.4,697.2 81.4,696.4 80.4,696.7 79.3,696.8 78.3,697.2" fill="#2a2aff" opacity="0.5"/>
<rect x="78.30" y="691.90" width="17.50" height="4.00" fill="#1414ff"/>
<polygon points="113.8,691.6 114.8,690.8 115.8,691.7 116.9,690.8 117.9,690.7 118.9,691.0 119.9,691.0 120.9,691.2 122.0,691.2 123.0,691.2 124.0,691.7 125.0,691.1 126.0,690.8 127.1,691.2 128.1,691.2 129.1,691.6 130.1,691.6 131.1,691.1 132.2,691.0 133.2,690.8 134.2,691.1 134.2,696.1 133.2,697.0 132.2,696.2 131.1,696.1 130.1,696.6 129.1,696.6 128.1,696.2 127.1,696.3 126.0,697.0 125.0,696.3 124.0,696.8 123.0,696.6 122.0,696.9 120.9,696.8 119.9,696.4 118.9,696.7 117.9,696.2 116.9,696.1 115.8,696.8 114.8,697.2 113.8,696.4" fill="#2a2aff" opacity="0.5"/>
<rect x="113.80" y="691.90" width="20.40" height="4.00" fill="#1414ff"/>
<polygon points="143.4,691.1 144.4,690.6 145.5,690.7 146.5,690.8 147.5,691.5 148.6,691.1 149.6,690.6 150.6,690.8 151.7,691.7 152.7,690.8 153.7,690.6 154.8,690.7 155.8,691.1 156.9,691.5 157.9,691.1 158.9,691.7 160.0,691.5 161.0,690.9 162.0,691.5 163.1,691.6 164.1,691.0 165.1,690.7 166.2,691.0 167.2,691.6 167.2,697.3 166.2,697.2 165.1,696.7 164.1,696.5 163.1,696.7 162.0,697.0 161.0,697.2 160.0,697.2 158.9,696.3 157.9,696.4 156.9,696.4 155.8,697.2 154.8,696.2 153.7,696.4 152.7,696.2 151.7,696.5 150.6,697.2 149.6,696.3 148.6,697.2 147.5,697.3 146.5,697.1 145.5,697.3 144.4,696.2 143.4,696.5" fill="#2a2aff" opacity="0.5"/>
<rect x="143.40" y="691.90" width="23.80" height="4.00" fill="#1414ff"/>
<polygon points="172.6,691.0 173.6,690.8 174.6,690.5 175.6,691.3 176.6,691.2 177.7,690.8 178.7,690.7 179.7,691.0 180.7,691.0 181.7,691.4 182.7,691.7 183.7,691.0 184.7,691.1 185.8,691.6 186.8,690.9 187.8,691.7 188.8,691.6 189.8,691.5 189.8,696.8 188.8,696.5 187.8,696.5 186.8,696.1 185.8,696.3 184.7,697.2 183.7,696.6 182.7,696.2 181.7,696.1 180.7,696.9 179.7,697.3 178.7,696.4 177.7,696.1 176.6,696.3 175.6,697.0 174.6,696.8 173.6,696.4 172.6,696.5" fill="#2a2aff" opacity="0.5"/>
<rect x="172.60" y="691.90" width="17.20" height="4.00" fill="#1414ff"/>
<polygon points="218.3,691.0 219.4,691.0 220.5,691.6 221.6,691.4 222.7,691.6 223.7,690.7 224.8,691.2 225.9,691.7 227.0,691.0 227.0,696.5 225.9,696.9 224.8,696.4 223.7,697.0 222.7,696.8 221.6,696.2 220.5,697.2 219.4,696.6 218.3,696.3" fill="#2a2aff" opacity="0.5"/>
<rect x="218.30" y="691.90" width="8.70" height="4.00" fill="#1414ff"/>
<polygon points="241.2,690.9 242.3,690.6 243.5,691.4 244.6,691.7 244.6,696.7 243.5,697.2 242.3,697.0 241.2,696.6" fill="#2a2aff" opacity="0.5"/>
<rect x="241.20" y="691.90" width="3.40" height="4.00" fill="#1414ff"/>
<polygon points="504.5,691.2 505.5,691.7 506.5,691.7 507.5,690.6 508.5,691.5 509.5,691.1 510.6,690.7 511.6,691.4 512.6,691.7 513.6,690.8 514.6,691.7 515.6,690.8 515.6,696.6 514.6,697.1 513.6,696.9 512.6,697.2 511.6,696.4 510.6,696.3 509.5,696.9 508.5,696.8 507.5,696.2 506.5,696.7 505.5,697.0 504.5,696.3" fill="#2a2aff" opacity="0.5"/>
<rect x="504.50" y="691.90" width="11.10" height="4.00" fill="#1414ff"/>
<polygon points="523.3,690.8 524.4,691.5 525.4,691.5 526.5,691.3 527.5,690.9 528.6,690.9 529.6,691.1 530.7,690.8 531.7,691.4 532.8,690.5 533.8,690.6 534.9,691.4 535.9,690.8 537.0,690.8 538.0,690.6 539.1,691.5 540.1,691.0 541.2,690.9 541.2,697.3 540.1,696.9 539.1,697.2 538.0,696.5 537.0,696.5 535.9,697.2 534.9,696.3 533.8,696.1 532.8,696.3 531.7,696.9 530.7,696.7 529.6,696.6 528.6,696.4 527.5,697.1 526.5,697.0 525.4,696.1 524.4,696.2 523.3,696.6" fill="#2a2aff" opacity="0.5"/>
<rect x="523.30" y="691.90" width="17.90" height="4.00" fill="#1414ff"/>
<polygon points="559.2,691.2 560.4,690.9 561.6,691.2 561.6,697.0 560.4,697.1 559.2,697.1" fill="#2a2aff" opacity="0.5"/>
<rect x="559.20" y="691.90" width="2.40" height="4.00" fill="#1414ff"/>
<rect x="-3" y="610" width="7.4" height="19" rx="2.5" fill="#8c8cff"/>
<path d="M0 613 L4 617 L0 621 Z" fill="#1414e6"/>
<path d="M0 752.3 H2.9" fill="none" stroke="#2a2aff" stroke-width="1.2"/>
<path d="M0 752 H1 V764.2 L4 765 L0 768.2 Z" fill="#1a1aff"/>
<path d="M278.6 472 L291 472 L284.8 477.4 Z" fill="#2a78f0"/>
<line x1="0.00" y1="472.50" x2="562.00" y2="472.50" stroke="#4e4e4e" stroke-width="1.2"/>
<line x1="561.50" y1="472.00" x2="561.50" y2="768.00" stroke="#5c5c5c" stroke-width="1.0"/>
<line x1="0.00" y1="767.50" x2="562.00" y2="767.50" stroke="#7e7e7e" stroke-width="1.0"/>
<line x1="0.00" y1="768.45" x2="562.00" y2="768.45" stroke="#9c9c9c" stroke-width="0.9"/>
<line x1="4.70" y1="472.00" x2="4.70" y2="768.00" stroke="#222" stroke-width="1.15"/>
<text x="13.8" y="468" font-family="'Liberation Sans',Arial,sans-serif" font-size="12.6" fill="#585858" textLength="36.2" lengthAdjust="spacingAndGlyphs">20.0V/</text>
<text x="67" y="468" font-family="'Liberation Sans',Arial,sans-serif" font-size="12.6" fill="#e040f0" textLength="6" lengthAdjust="spacingAndGlyphs">2</text>
<text x="140" y="468" font-family="'Liberation Sans',Arial,sans-serif" font-size="12.6" fill="#d89a40" textLength="6" lengthAdjust="spacingAndGlyphs">3</text>
<text x="213.6" y="468" font-family="'Liberation Sans',Arial,sans-serif" font-size="12.6" fill="#40e0e0" textLength="5.6" lengthAdjust="spacingAndGlyphs">4</text>
<text x="355.8" y="468" font-family="'Liberation Sans',Arial,sans-serif" font-size="12.6" fill="#585858" textLength="35.4" lengthAdjust="spacingAndGlyphs">-400.0</text>
<text x="392.3" y="463.6" font-family="'Liberation Sans',Arial,sans-serif" font-size="6.4" fill="#3a3a3a" font-weight="bold" textLength="4.2" lengthAdjust="spacingAndGlyphs">µ</text>
<text x="392.3" y="467.7" font-family="'Liberation Sans',Arial,sans-serif" font-size="6.4" fill="#3a3a3a" font-weight="bold" textLength="4.2" lengthAdjust="spacingAndGlyphs">s</text>
<text x="426.4" y="468" font-family="'Liberation Sans',Arial,sans-serif" font-size="12.6" fill="#585858" textLength="31.6" lengthAdjust="spacingAndGlyphs">5.000</text>
<text x="458.8" y="463.6" font-family="'Liberation Sans',Arial,sans-serif" font-size="6.4" fill="#3a3a3a" font-weight="bold" textLength="4.2" lengthAdjust="spacingAndGlyphs">m</text>
<text x="458.8" y="467.7" font-family="'Liberation Sans',Arial,sans-serif" font-size="6.4" fill="#3a3a3a" font-weight="bold" textLength="4.2" lengthAdjust="spacingAndGlyphs">s</text>
<text x="464.8" y="468" font-family="'Liberation Sans',Arial,sans-serif" font-size="12.6" fill="#585858">/</text>
<text x="508" y="468" font-family="'Liberation Sans',Arial,sans-serif" font-size="12.6" fill="#585858" textLength="24.4" lengthAdjust="spacingAndGlyphs">Stop</text>
<path d="M568.4 467.0 H571.6 V459.7 H574.4" fill="none" stroke="#262626" stroke-width="1.1"/>
<path d="M568.6 465.3 L571.6 461.1 L574.6 465.3 Z" fill="#262626"/>
<text x="591.6" y="468" font-family="'Liberation Sans',Arial,sans-serif" font-size="12.6" fill="#3030f8" textLength="5.6" lengthAdjust="spacingAndGlyphs">1</text>
<text x="631.6" y="468" font-family="'Liberation Sans',Arial,sans-serif" font-size="12.6" fill="#585858" textLength="32.6" lengthAdjust="spacingAndGlyphs">-122V</text>
<rect x="564.2" y="472.8" width="119.5" height="294.9" rx="5" ry="5" fill="#e8e8e8" stroke="#b0b0b0" stroke-width="1.8"/>
<path d="M570.5 487.2 L570.5 487.4 L570.6 487.5 L570.7 487.7 L570.8 487.9 L570.8 488.1 L570.9 488.3 L571.0 488.6 L571.1 488.8 L571.2 489.1 L571.3 489.3 L571.4 489.6 L571.5 489.9 L571.7 490.2 L571.8 490.4 L572.7 490.9 L573.7 490.9 L574.4 490.4 L574.9 489.9 L575.3 489.4 L575.7 488.8 L576.0 488.2 L576.4 487.6 L576.7 486.9 L577.0 486.2 L577.3 485.6 L577.5 485.0 L577.8 484.4 L578.1 483.9 L578.3 483.4 L578.5 483.1 L578.1 483.4 L576.9 483.2 L576.4 483.1 L576.5 483.3 L576.8 483.9 L577.1 484.7 L577.4 485.6 L577.7 486.6 L578.0 487.7 L578.4 488.9 L578.7 490.0 L579.1 491.1 L579.4 492.2 L579.8 493.2 L580.1 494.1 L580.5 495.0 L581.3 496.2 L583.2 497.1 L584.7 495.9 L585.4 494.8 L585.9 493.7 L586.3 492.6 L586.7 491.4 L587.1 490.1 L587.6 488.7 L588.0 487.3 L588.4 486.0 L588.8 484.7 L589.2 483.4 L589.6 482.3 L589.9 481.3 L590.3 480.5 L590.4 480.2 L589.7 480.3 L588.5 480.3 L588.4 480.3 L588.7 481.0 L589.0 481.8 L589.3 482.7 L589.6 483.7 L589.9 484.8 L590.3 485.9 L590.6 487.1 L591.0 488.2 L591.3 489.3 L591.7 490.4 L592.0 491.3 L592.4 492.2 L593.0 493.2 L594.2 494.2 L596.0 493.7 L596.9 492.8 L597.3 492.2 L597.6 491.5 L597.9 490.8 L598.2 490.1 L598.5 489.4 L598.8 488.7 L599.0 488.0 L599.3 487.3 L599.5 486.6 L599.7 486.0 L599.8 485.6 L600.0 485.2 L600.1 484.9 L599.9 484.9 L599.1 485.1 L598.5 484.7 L598.6 484.8 L598.8 484.9 L598.9 485.0 L599.1 485.2 L599.3 485.4 L599.5 485.6 L599.7 485.9 L599.9 486.1 L600.1 486.3 L600.3 486.5 L600.6 486.7 L600.8 486.8 L601.0 486.9 L601.2 487.0 L601.6 486.6 L601.5 486.4 L601.5 486.3 L601.4 486.1 L601.4 485.9 L601.3 485.6 L601.2 485.3 L601.2 485.1 L601.1 484.8 L601.0 484.5 L600.9 484.2 L600.8 483.9 L600.7 483.6 L600.6 483.3 L600.5 483.0 L599.6 482.3 L598.5 482.3 L597.8 482.9 L597.3 483.4 L596.9 484.0 L596.5 484.5 L596.2 485.2 L595.8 485.9 L595.5 486.6 L595.2 487.3 L595.0 488.0 L594.7 488.7 L594.4 489.3 L594.2 489.9 L594.0 490.3 L593.8 490.7 L594.1 490.5 L595.4 490.6 L595.9 490.7 L595.8 490.5 L595.5 489.8 L595.2 489.0 L594.9 488.1 L594.6 487.1 L594.3 486.0 L593.9 484.9 L593.6 483.7 L593.2 482.6 L592.9 481.5 L592.5 480.4 L592.2 479.5 L591.8 478.6 L591.0 477.5 L589.1 476.5 L587.6 477.7 L586.9 478.8 L586.4 479.9 L586.0 481.0 L585.6 482.2 L585.2 483.5 L584.7 484.9 L584.3 486.3 L583.9 487.6 L583.5 488.9 L583.1 490.2 L582.7 491.3 L582.4 492.3 L582.0 493.1 L581.9 493.4 L582.6 493.3 L583.8 493.3 L583.9 493.3 L583.6 492.7 L583.3 491.9 L583.0 491.0 L582.7 490.0 L582.4 488.9 L582.0 487.7 L581.7 486.6 L581.3 485.5 L581.0 484.4 L580.6 483.4 L580.3 482.5 L579.9 481.6 L579.3 480.6 L578.1 479.6 L576.3 480.0 L575.4 480.9 L575.0 481.5 L574.7 482.1 L574.4 482.7 L574.1 483.4 L573.8 484.1 L573.5 484.8 L573.2 485.4 L573.0 486.1 L572.8 486.7 L572.6 487.2 L572.4 487.7 L572.3 488.0 L572.2 488.2 L572.3 488.3 L573.0 488.1 L573.6 488.4 L573.4 488.4 L573.3 488.3 L573.1 488.2 L572.9 488.1 L572.7 487.9 L572.5 487.8 L572.3 487.6 L572.1 487.4 L571.9 487.3 L571.6 487.1 L571.4 487.0 L571.2 486.9 L571.0 486.8 L570.7 486.8 Z" fill="#1cf6d0" stroke="#1cf6d0" stroke-width="0.6" stroke-linejoin="round"/>
<text x="607" y="487.2" font-family="'Liberation Sans',Arial,sans-serif" font-size="12.6" fill="#111" font-weight="bold" textLength="69.5" lengthAdjust="spacingAndGlyphs">KEYSIGHT</text>
<text x="607.3" y="495.2" font-family="'Liberation Sans',Arial,sans-serif" font-size="7.0" fill="#111" textLength="67.6" lengthAdjust="spacingAndGlyphs" stroke="#111" stroke-width="0.25">TECHNOLOGIES</text>
<rect x="564.90" y="501.80" width="118.10" height="14.60" fill="#a5a19e"/>
<text x="623.6" y="513.1" font-family="'Liberation Sans',Arial,sans-serif" font-size="12.4" fill="#3c3c3c" text-anchor="middle" textLength="56" lengthAdjust="spacingAndGlyphs">Acquisition</text>
<rect x="568.20" y="507.40" width="1.20" height="1.20" fill="#8a8784"/>
<rect x="571.20" y="507.40" width="1.20" height="1.20" fill="#8a8784"/>
<rect x="568.20" y="508.60" width="1.20" height="0.70" fill="#bdbab7"/>
<rect x="571.20" y="508.60" width="1.20" height="0.70" fill="#bdbab7"/>
<rect x="568.20" y="509.80" width="1.20" height="1.20" fill="#8a8784"/>
<rect x="571.20" y="509.80" width="1.20" height="1.20" fill="#8a8784"/>
<rect x="568.20" y="511.00" width="1.20" height="0.70" fill="#bdbab7"/>
<rect x="571.20" y="511.00" width="1.20" height="0.70" fill="#bdbab7"/>
<rect x="568.20" y="512.20" width="1.20" height="1.20" fill="#8a8784"/>
<rect x="571.20" y="512.20" width="1.20" height="1.20" fill="#8a8784"/>
<rect x="568.20" y="513.40" width="1.20" height="0.70" fill="#bdbab7"/>
<rect x="571.20" y="513.40" width="1.20" height="0.70" fill="#bdbab7"/>
<rect x="675.20" y="507.40" width="1.20" height="1.20" fill="#8a8784"/>
<rect x="678.20" y="507.40" width="1.20" height="1.20" fill="#8a8784"/>
<rect x="675.20" y="508.60" width="1.20" height="0.70" fill="#bdbab7"/>
<rect x="678.20" y="508.60" width="1.20" height="0.70" fill="#bdbab7"/>
<rect x="675.20" y="509.80" width="1.20" height="1.20" fill="#8a8784"/>
<rect x="678.20" y="509.80" width="1.20" height="1.20" fill="#8a8784"/>
<rect x="675.20" y="511.00" width="1.20" height="0.70" fill="#bdbab7"/>
<rect x="678.20" y="511.00" width="1.20" height="0.70" fill="#bdbab7"/>
<rect x="675.20" y="512.20" width="1.20" height="1.20" fill="#8a8784"/>
<rect x="678.20" y="512.20" width="1.20" height="1.20" fill="#8a8784"/>
<rect x="675.20" y="513.40" width="1.20" height="0.70" fill="#bdbab7"/>
<rect x="678.20" y="513.40" width="1.20" height="0.70" fill="#bdbab7"/>
<rect x="564.90" y="560.60" width="118.10" height="15.20" fill="#a5a19e"/>
<text x="623.6" y="572.5" font-family="'Liberation Sans',Arial,sans-serif" font-size="12.4" fill="#3c3c3c" text-anchor="middle" textLength="45" lengthAdjust="spacingAndGlyphs">Channels</text>
<rect x="568.20" y="566.20" width="1.20" height="1.20" fill="#8a8784"/>
<rect x="571.20" y="566.20" width="1.20" height="1.20" fill="#8a8784"/>
<rect x="568.20" y="567.40" width="1.20" height="0.70" fill="#bdbab7"/>
<rect x="571.20" y="567.40" width="1.20" height="0.70" fill="#bdbab7"/>
<rect x="568.20" y="568.60" width="1.20" height="1.20" fill="#8a8784"/>
<rect x="571.20" y="568.60" width="1.20" height="1.20" fill="#8a8784"/>
<rect x="568.20" y="569.80" width="1.20" height="0.70" fill="#bdbab7"/>
<rect x="571.20" y="569.80" width="1.20" height="0.70" fill="#bdbab7"/>
<rect x="568.20" y="571.00" width="1.20" height="1.20" fill="#8a8784"/>
<rect x="571.20" y="571.00" width="1.20" height="1.20" fill="#8a8784"/>
<rect x="568.20" y="572.20" width="1.20" height="0.70" fill="#bdbab7"/>
<rect x="571.20" y="572.20" width="1.20" height="0.70" fill="#bdbab7"/>
<rect x="675.20" y="566.20" width="1.20" height="1.20" fill="#8a8784"/>
<rect x="678.20" y="566.20" width="1.20" height="1.20" fill="#8a8784"/>
<rect x="675.20" y="567.40" width="1.20" height="0.70" fill="#bdbab7"/>
<rect x="678.20" y="567.40" width="1.20" height="0.70" fill="#bdbab7"/>
<rect x="675.20" y="568.60" width="1.20" height="1.20" fill="#8a8784"/>
<rect x="678.20" y="568.60" width="1.20" height="1.20" fill="#8a8784"/>
<rect x="675.20" y="569.80" width="1.20" height="0.70" fill="#bdbab7"/>
<rect x="678.20" y="569.80" width="1.20" height="0.70" fill="#bdbab7"/>
<rect x="675.20" y="571.00" width="1.20" height="1.20" fill="#8a8784"/>
<rect x="678.20" y="571.00" width="1.20" height="1.20" fill="#8a8784"/>
<rect x="675.20" y="572.20" width="1.20" height="0.70" fill="#bdbab7"/>
<rect x="678.20" y="572.20" width="1.20" height="0.70" fill="#bdbab7"/>
<rect x="564.90" y="634.40" width="118.10" height="15.00" fill="#a5a19e"/>
<text x="623.6" y="646.1" font-family="'Liberation Sans',Arial,sans-serif" font-size="12.4" fill="#3c3c3c" text-anchor="middle" textLength="17.5" lengthAdjust="spacingAndGlyphs">FFT</text>
<rect x="568.20" y="640.00" width="1.20" height="1.20" fill="#8a8784"/>
<rect x="571.20" y="640.00" width="1.20" height="1.20" fill="#8a8784"/>
<rect x="568.20" y="641.20" width="1.20" height="0.70" fill="#bdbab7"/>
<rect x="571.20" y="641.20" width="1.20" height="0.70" fill="#bdbab7"/>
<rect x="568.20" y="642.40" width="1.20" height="1.20" fill="#8a8784"/>
<rect x="571.20" y="642.40" width="1.20" height="1.20" fill="#8a8784"/>
<rect x="568.20" y="643.60" width="1.20" height="0.70" fill="#bdbab7"/>
<rect x="571.20" y="643.60" width="1.20" height="0.70" fill="#bdbab7"/>
<rect x="568.20" y="644.80" width="1.20" height="1.20" fill="#8a8784"/>
<rect x="571.20" y="644.80" width="1.20" height="1.20" fill="#8a8784"/>
<rect x="568.20" y="646.00" width="1.20" height="0.70" fill="#bdbab7"/>
<rect x="571.20" y="646.00" width="1.20" height="0.70" fill="#bdbab7"/>
<rect x="675.20" y="640.00" width="1.20" height="1.20" fill="#8a8784"/>
<rect x="678.20" y="640.00" width="1.20" height="1.20" fill="#8a8784"/>
<rect x="675.20" y="641.20" width="1.20" height="0.70" fill="#bdbab7"/>
<rect x="678.20" y="641.20" width="1.20" height="0.70" fill="#bdbab7"/>
<rect x="675.20" y="642.40" width="1.20" height="1.20" fill="#8a8784"/>
<rect x="678.20" y="642.40" width="1.20" height="1.20" fill="#8a8784"/>
<rect x="675.20" y="643.60" width="1.20" height="0.70" fill="#bdbab7"/>
<rect x="678.20" y="643.60" width="1.20" height="0.70" fill="#bdbab7"/>
<rect x="675.20" y="644.80" width="1.20" height="1.20" fill="#8a8784"/>
<rect x="678.20" y="644.80" width="1.20" height="1.20" fill="#8a8784"/>
<rect x="675.20" y="646.00" width="1.20" height="0.70" fill="#bdbab7"/>
<rect x="678.20" y="646.00" width="1.20" height="0.70" fill="#bdbab7"/>
<rect x="564.90" y="694.60" width="118.10" height="14.00" fill="#a5a19e"/>
<text x="623.6" y="705.3000000000001" font-family="'Liberation Sans',Arial,sans-serif" font-size="12.4" fill="#3c3c3c" text-anchor="middle" textLength="15.5" lengthAdjust="spacingAndGlyphs">Ref</text>
<rect x="568.20" y="700.20" width="1.20" height="1.20" fill="#8a8784"/>
<rect x="571.20" y="700.20" width="1.20" height="1.20" fill="#8a8784"/>
<rect x="568.20" y="701.40" width="1.20" height="0.70" fill="#bdbab7"/>
<rect x="571.20" y="701.40" width="1.20" height="0.70" fill="#bdbab7"/>
<rect x="568.20" y="702.60" width="1.20" height="1.20" fill="#8a8784"/>
<rect x="571.20" y="702.60" width="1.20" height="1.20" fill="#8a8784"/>
<rect x="568.20" y="703.80" width="1.20" height="0.70" fill="#bdbab7"/>
<rect x="571.20" y="703.80" width="1.20" height="0.70" fill="#bdbab7"/>
<rect x="568.20" y="705.00" width="1.20" height="1.20" fill="#8a8784"/>
<rect x="571.20" y="705.00" width="1.20" height="1.20" fill="#8a8784"/>
<rect x="568.20" y="706.20" width="1.20" height="0.70" fill="#bdbab7"/>
<rect x="571.20" y="706.20" width="1.20" height="0.70" fill="#bdbab7"/>
<rect x="675.20" y="700.20" width="1.20" height="1.20" fill="#8a8784"/>
<rect x="678.20" y="700.20" width="1.20" height="1.20" fill="#8a8784"/>
<rect x="675.20" y="701.40" width="1.20" height="0.70" fill="#bdbab7"/>
<rect x="678.20" y="701.40" width="1.20" height="0.70" fill="#bdbab7"/>
<rect x="675.20" y="702.60" width="1.20" height="1.20" fill="#8a8784"/>
<rect x="678.20" y="702.60" width="1.20" height="1.20" fill="#8a8784"/>
<rect x="675.20" y="703.80" width="1.20" height="0.70" fill="#bdbab7"/>
<rect x="678.20" y="703.80" width="1.20" height="0.70" fill="#bdbab7"/>
<rect x="675.20" y="705.00" width="1.20" height="1.20" fill="#8a8784"/>
<rect x="678.20" y="705.00" width="1.20" height="1.20" fill="#8a8784"/>
<rect x="675.20" y="706.20" width="1.20" height="0.70" fill="#bdbab7"/>
<rect x="678.20" y="706.20" width="1.20" height="0.70" fill="#bdbab7"/>
<text x="623.4" y="527.9" font-family="'Liberation Sans',Arial,sans-serif" font-size="12.4" fill="#444" text-anchor="middle" textLength="37" lengthAdjust="spacingAndGlyphs">Normal</text>
<text x="623.2" y="542.8" font-family="'Liberation Sans',Arial,sans-serif" font-size="12.4" fill="#444" text-anchor="middle" textLength="57.6" lengthAdjust="spacingAndGlyphs">20.0MSa/s</text>
<text x="567.4" y="587.3" font-family="'Liberation Sans',Arial,sans-serif" font-size="12.4" fill="#2424f0" textLength="13.8" lengthAdjust="spacingAndGlyphs">DC</text>
<text x="679" y="587.3" font-family="'Liberation Sans',Arial,sans-serif" font-size="12.4" fill="#2424f0" text-anchor="end" textLength="31.4" lengthAdjust="spacingAndGlyphs">10.0:1</text>
<text x="567.4" y="602.05" font-family="'Liberation Sans',Arial,sans-serif" font-size="12.4" fill="#d034e0" textLength="13.8" lengthAdjust="spacingAndGlyphs">DC</text>
<text x="679" y="602.05" font-family="'Liberation Sans',Arial,sans-serif" font-size="12.4" fill="#d034e0" text-anchor="end" textLength="31.4" lengthAdjust="spacingAndGlyphs">10.0:1</text>
<text x="567.4" y="616.8" font-family="'Liberation Sans',Arial,sans-serif" font-size="12.4" fill="#cc8a22" textLength="13.8" lengthAdjust="spacingAndGlyphs">DC</text>
<text x="679" y="616.8" font-family="'Liberation Sans',Arial,sans-serif" font-size="12.4" fill="#cc8a22" text-anchor="end" textLength="31.4" lengthAdjust="spacingAndGlyphs">10.0:1</text>
<text x="567.4" y="631.55" font-family="'Liberation Sans',Arial,sans-serif" font-size="12.4" fill="#28e6d0" textLength="13.8" lengthAdjust="spacingAndGlyphs">DC</text>
<text x="679" y="631.55" font-family="'Liberation Sans',Arial,sans-serif" font-size="12.4" fill="#28e6d0" text-anchor="end" textLength="31.4" lengthAdjust="spacingAndGlyphs">10.0:1</text>
<text x="623.6" y="662.3" font-family="'Liberation Sans',Arial,sans-serif" font-size="12.4" fill="#a8a8a8" text-anchor="middle" textLength="45.5" lengthAdjust="spacingAndGlyphs">FFT(Ch1)</text>
<text x="567.4" y="677" font-family="'Liberation Sans',Arial,sans-serif" font-size="12.4" fill="#a8a8a8" textLength="35" lengthAdjust="spacingAndGlyphs">5.00V/</text>
<text x="680" y="677" font-family="'Liberation Sans',Arial,sans-serif" font-size="12.4" fill="#a8a8a8" text-anchor="end" textLength="40" lengthAdjust="spacingAndGlyphs">1.00kHz</text>
<text x="568" y="691.7" font-family="'Liberation Sans',Arial,sans-serif" font-size="12.4" fill="#a8a8a8" textLength="28.6" lengthAdjust="spacingAndGlyphs">15.1V</text>
<text x="680" y="691.7" font-family="'Liberation Sans',Arial,sans-serif" font-size="12.4" fill="#a8a8a8" text-anchor="end" textLength="31.5" lengthAdjust="spacingAndGlyphs">500Hz</text>
<text x="567.4" y="721.2" font-family="'Liberation Sans',Arial,sans-serif" font-size="12.4" fill="#a8a8a8" textLength="15.5" lengthAdjust="spacingAndGlyphs">R1:</text>
<text x="592.6" y="721.2" font-family="'Liberation Sans',Arial,sans-serif" font-size="12.4" fill="#a8a8a8" textLength="35" lengthAdjust="spacingAndGlyphs">5.00V/</text>
<text x="680" y="721.2" font-family="'Liberation Sans',Arial,sans-serif" font-size="12.4" fill="#a8a8a8" text-anchor="end" textLength="23.6" lengthAdjust="spacingAndGlyphs">0.0V</text>
<text x="567.4" y="735.7" font-family="'Liberation Sans',Arial,sans-serif" font-size="12.4" fill="#a8a8a8" textLength="15.5" lengthAdjust="spacingAndGlyphs">R2:</text>
<text x="592.6" y="735.7" font-family="'Liberation Sans',Arial,sans-serif" font-size="12.4" fill="#a8a8a8" textLength="35" lengthAdjust="spacingAndGlyphs">5.00V/</text>
<text x="680" y="735.7" font-family="'Liberation Sans',Arial,sans-serif" font-size="12.4" fill="#a8a8a8" text-anchor="end" textLength="23.6" lengthAdjust="spacingAndGlyphs">0.0V</text>
</g>
<text x="342.6" y="805.7" font-family="'Liberation Serif','Times New Roman',serif" font-size="27.2" fill="#000" text-anchor="middle" font-weight="bold">(b)</text>
<g id="pc">
<line x1="138.50" y1="862.80" x2="603.00" y2="862.80" stroke="#000" stroke-width="2.1" opacity="0.09"/>
<line x1="138.50" y1="889.20" x2="603.00" y2="889.20" stroke="#000" stroke-width="2.1" opacity="0.09"/>
<line x1="138.50" y1="913.50" x2="603.00" y2="913.50" stroke="#000" stroke-width="2.1" opacity="0.09"/>
<line x1="138.50" y1="939.70" x2="603.00" y2="939.70" stroke="#000" stroke-width="2.3" opacity="0.215"/>
<line x1="138.50" y1="964.00" x2="603.00" y2="964.00" stroke="#000" stroke-width="2.1" opacity="0.09"/>
<line x1="138.50" y1="989.60" x2="603.00" y2="989.60" stroke="#000" stroke-width="2.1" opacity="0.09"/>
<line x1="138.50" y1="1015.00" x2="603.00" y2="1015.00" stroke="#000" stroke-width="2.1" opacity="0.09"/>
<line x1="138.50" y1="1041.00" x2="603.00" y2="1041.00" stroke="#000" stroke-width="2.1" opacity="0.09"/>
<line x1="202.80" y1="839.50" x2="202.80" y2="1072.50" stroke="#000" stroke-width="2.5" opacity="0.118"/>
<line x1="269.20" y1="839.50" x2="269.20" y2="1072.50" stroke="#000" stroke-width="2.5" opacity="0.118"/>
<line x1="335.35" y1="839.50" x2="335.35" y2="1072.50" stroke="#000" stroke-width="2.5" opacity="0.118"/>
<line x1="402.60" y1="839.50" x2="402.60" y2="1072.50" stroke="#000" stroke-width="2.5" opacity="0.118"/>
<line x1="469.30" y1="839.50" x2="469.30" y2="1072.50" stroke="#000" stroke-width="2.5" opacity="0.118"/>
<line x1="535.20" y1="839.50" x2="535.20" y2="1072.50" stroke="#000" stroke-width="2.5" opacity="0.118"/>
<line x1="601.00" y1="839.50" x2="601.00" y2="1072.50" stroke="#000" stroke-width="2.5" opacity="0.07"/>
<rect x="138.50" y="1064.60" width="464.00" height="4.60" fill="#ff0000" opacity="0.40"/>
<rect x="138.50" y="1065.60" width="464.00" height="2.00" fill="#ff0000" opacity="0.36"/>
<rect x="138.50" y="1067.60" width="464.00" height="1.50" fill="#9a3c3c" opacity="0.75"/>
<rect x="150.30" y="845.80" width="4.70" height="221.80" fill="#ff0000" opacity="0.40"/>
<rect x="151.35" y="846.10" width="3.00" height="221.50" fill="#ff0000" opacity="0.92"/>
<rect x="186.80" y="1062.30" width="4.00" height="5.30" fill="#ff0000" opacity="0.40"/>
<rect x="187.85" y="1062.60" width="2.30" height="5.00" fill="#ff0000" opacity="0.9"/>
<rect x="219.40" y="995.80" width="4.60" height="71.80" fill="#ff0000" opacity="0.40"/>
<rect x="220.45" y="996.10" width="2.90" height="71.50" fill="#ff0000" opacity="0.92"/>
<rect x="285.50" y="995.80" width="4.80" height="71.80" fill="#ff0000" opacity="0.40"/>
<rect x="286.55" y="996.10" width="3.10" height="71.50" fill="#ff0000" opacity="0.92"/>
<rect x="289.10" y="1058.50" width="3.60" height="9.10" fill="#ff0000" opacity="0.40"/>
<rect x="290.15" y="1058.80" width="1.90" height="8.80" fill="#ff0000" opacity="0.9"/>
<rect x="318.80" y="1062.30" width="4.20" height="5.30" fill="#ff0000" opacity="0.40"/>
<rect x="319.85" y="1062.60" width="2.50" height="5.00" fill="#ff0000" opacity="0.9"/>
<rect x="356.20" y="1025.80" width="3.80" height="41.80" fill="#ff0000" opacity="0.40"/>
<rect x="357.25" y="1026.10" width="2.10" height="41.50" fill="#ff0000" opacity="0.92"/>
<rect x="388.80" y="1025.80" width="4.20" height="41.80" fill="#ff0000" opacity="0.40"/>
<rect x="389.85" y="1026.10" width="2.50" height="41.50" fill="#ff0000" opacity="0.92"/>
<rect x="425.50" y="1031.80" width="4.40" height="35.80" fill="#ff0000" opacity="0.40"/>
<rect x="426.55" y="1032.10" width="2.70" height="35.50" fill="#ff0000" opacity="0.92"/>
<rect x="454.20" y="1059.10" width="4.80" height="8.50" fill="#ff0000" opacity="0.40"/>
<rect x="455.25" y="1059.40" width="3.10" height="8.20" fill="#ff0000" opacity="0.8"/>
<rect x="457.80" y="1052.30" width="3.90" height="15.30" fill="#ff0000" opacity="0.40"/>
<rect x="458.85" y="1052.60" width="2.20" height="15.00" fill="#ff0000" opacity="0.92"/>
<rect x="493.70" y="1055.50" width="5.30" height="12.10" fill="#ff0000" opacity="0.40"/>
<rect x="494.75" y="1055.80" width="3.60" height="11.80" fill="#ff0000" opacity="0.92"/>
<rect x="524.60" y="1052.30" width="3.80" height="15.30" fill="#ff0000" opacity="0.40"/>
<rect x="525.65" y="1052.60" width="2.10" height="15.00" fill="#ff0000" opacity="0.9"/>
<rect x="527.20" y="1040.50" width="5.20" height="27.10" fill="#ff0000" opacity="0.40"/>
<rect x="528.25" y="1040.80" width="3.50" height="26.80" fill="#ff0000" opacity="0.92"/>
<rect x="558.00" y="1031.80" width="3.60" height="35.80" fill="#ff0000" opacity="0.40"/>
<rect x="559.05" y="1032.10" width="1.90" height="35.50" fill="#ff0000" opacity="0.95"/>
<rect x="564.20" y="1062.30" width="3.60" height="5.30" fill="#ff0000" opacity="0.40"/>
<rect x="565.25" y="1062.60" width="1.90" height="5.00" fill="#ff0000" opacity="0.9"/>
<rect x="593.80" y="1051.80" width="5.40" height="15.80" fill="#ff0000" opacity="0.40"/>
<rect x="594.85" y="1052.10" width="3.70" height="15.50" fill="#ff0000" opacity="0.92"/>
<rect x="135.20" y="839.50" width="2.95" height="236.20" fill="#000"/>
<rect x="138.15" y="839.50" width="0.70" height="233.20" fill="#7c7c7c"/>
<rect x="138.85" y="839.50" width="0.70" height="233.20" fill="#c4c4c4"/>
<rect x="135.40" y="1065.00" width="2.70" height="3.60" fill="#8a0000"/>
<rect x="138.10" y="1072.10" width="465.10" height="0.95" fill="#a8a8a8"/>
<rect x="135.20" y="1073.00" width="468.00" height="2.70" fill="#000"/>
<rect x="463.4" y="842.2" width="134" height="39.3" fill="#fff" stroke="#000" stroke-width="2"/>
<rect x="470.5" y="852.2" width="19.4" height="17.4" fill="#ff0000" stroke="#140000" stroke-width="1.9"/>
<text x="497.5" y="868.2" font-family="'Liberation Serif','Times New Roman',serif" font-size="20" fill="#000" textLength="93.7" lengthAdjust="spacingAndGlyphs">CB-SPWM</text>
<text x="92.7" y="851.4" font-family="'DejaVu Sans','Liberation Sans',sans-serif" font-size="15.9" fill="#111" textLength="29.9" lengthAdjust="spacingAndGlyphs">100</text>
<text x="115.0" y="1069" font-family="'DejaVu Sans','Liberation Sans',sans-serif" font-size="15.9" fill="#111" textLength="10.0" lengthAdjust="spacingAndGlyphs">0</text>
<text x="131.6" y="1098.4" font-family="'DejaVu Sans','Liberation Sans',sans-serif" font-size="15.9" fill="#111" textLength="10.9" lengthAdjust="spacingAndGlyphs">0</text>
<text x="441.5" y="1098.1" font-family="'DejaVu Sans','Liberation Sans',sans-serif" font-size="15.9" fill="#111" textLength="42.0" lengthAdjust="spacingAndGlyphs">1000</text>
<text x="355.5" y="1119" font-family="'Liberation Serif','Times New Roman',serif" font-size="29.4" fill="#000" text-anchor="middle" textLength="188" lengthAdjust="spacingAndGlyphs">Frequency (Hz)</text>
<text transform="translate(83.6,958.7) rotate(-90)" font-family="'Liberation Serif','Times New Roman',serif" font-size="29.5" text-anchor="middle" textLength="222.8" lengthAdjust="spacingAndGlyphs">Mag. ( % of fund.)</text>
<text x="342.8" y="1159" font-family="'Liberation Serif','Times New Roman',serif" font-size="27" fill="#000" text-anchor="middle" font-weight="bold">(c)</text>
</g>
<g id="pd" transform="matrix(0.96266 0 0 1.14392 14.187 644.870)">
<line x1="60.97" y1="472.00" x2="60.97" y2="768.00" stroke="#dcdcdc" stroke-width="1.35"/>
<line x1="116.64" y1="472.00" x2="116.64" y2="768.00" stroke="#dcdcdc" stroke-width="1.35"/>
<line x1="172.31" y1="472.00" x2="172.31" y2="768.00" stroke="#dcdcdc" stroke-width="1.35"/>
<line x1="227.98" y1="472.00" x2="227.98" y2="768.00" stroke="#dcdcdc" stroke-width="1.35"/>
<line x1="283.65" y1="472.00" x2="283.65" y2="768.00" stroke="#e2e2e2" stroke-width="1.35"/>
<line x1="339.32" y1="472.00" x2="339.32" y2="768.00" stroke="#dcdcdc" stroke-width="1.35"/>
<line x1="394.99" y1="472.00" x2="394.99" y2="768.00" stroke="#dcdcdc" stroke-width="1.35"/>
<line x1="450.66" y1="472.00" x2="450.66" y2="768.00" stroke="#dcdcdc" stroke-width="1.35"/>
<line x1="506.33" y1="472.00" x2="506.33" y2="768.00" stroke="#dcdcdc" stroke-width="1.35"/>
<line x1="5.00" y1="509.00" x2="562.00" y2="509.00" stroke="#e3e3e3" stroke-width="1.4"/>
<line x1="5.00" y1="546.00" x2="562.00" y2="546.00" stroke="#e3e3e3" stroke-width="1.4"/>
<line x1="5.00" y1="583.00" x2="562.00" y2="583.00" stroke="#e3e3e3" stroke-width="1.4"/>
<line x1="5.00" y1="620.00" x2="562.00" y2="620.00" stroke="#e6e6e6" stroke-width="1.4"/>
<line x1="5.00" y1="657.00" x2="562.00" y2="657.00" stroke="#e3e3e3" stroke-width="1.4"/>
<line x1="5.00" y1="694.00" x2="562.00" y2="694.00" stroke="#e3e3e3" stroke-width="1.4"/>
<line x1="5.00" y1="731.00" x2="562.00" y2="731.00" stroke="#e3e3e3" stroke-width="1.4"/>
<line x1="283.25" y1="479.40" x2="285.85" y2="479.40" stroke="#c8c8c8" stroke-width="0.8"/>
<line x1="283.25" y1="486.80" x2="285.85" y2="486.80" stroke="#c8c8c8" stroke-width="0.8"/>
<line x1="283.25" y1="494.20" x2="285.85" y2="494.20" stroke="#c8c8c8" stroke-width="0.8"/>
<line x1="283.25" y1="501.60" x2="285.85" y2="501.60" stroke="#c8c8c8" stroke-width="0.8"/>
<line x1="283.25" y1="509.00" x2="285.85" y2="509.00" stroke="#c8c8c8" stroke-width="0.8"/>
<line x1="283.25" y1="516.40" x2="285.85" y2="516.40" stroke="#c8c8c8" stroke-width="0.8"/>
<line x1="283.25" y1="523.80" x2="285.85" y2="523.80" stroke="#c8c8c8" stroke-width="0.8"/>
<line x1="283.25" y1="531.20" x2="285.85" y2="531.20" stroke="#c8c8c8" stroke-width="0.8"/>
<line x1="283.25" y1="538.60" x2="285.85" y2="538.60" stroke="#c8c8c8" stroke-width="0.8"/>
<line x1="283.25" y1="546.00" x2="285.85" y2="546.00" stroke="#c8c8c8" stroke-width="0.8"/>
<line x1="283.25" y1="553.40" x2="285.85" y2="553.40" stroke="#c8c8c8" stroke-width="0.8"/>
<line x1="283.25" y1="560.80" x2="285.85" y2="560.80" stroke="#c8c8c8" stroke-width="0.8"/>
<line x1="283.25" y1="568.20" x2="285.85" y2="568.20" stroke="#c8c8c8" stroke-width="0.8"/>
<line x1="283.25" y1="575.60" x2="285.85" y2="575.60" stroke="#c8c8c8" stroke-width="0.8"/>
<line x1="283.25" y1="583.00" x2="285.85" y2="583.00" stroke="#c8c8c8" stroke-width="0.8"/>
<line x1="283.25" y1="590.40" x2="285.85" y2="590.40" stroke="#c8c8c8" stroke-width="0.8"/>
<line x1="283.25" y1="597.80" x2="285.85" y2="597.80" stroke="#c8c8c8" stroke-width="0.8"/>
<line x1="283.25" y1="605.20" x2="285.85" y2="605.20" stroke="#c8c8c8" stroke-width="0.8"/>
<line x1="283.25" y1="612.60" x2="285.85" y2="612.60" stroke="#c8c8c8" stroke-width="0.8"/>
<line x1="283.25" y1="620.00" x2="285.85" y2="620.00" stroke="#c8c8c8" stroke-width="0.8"/>
<line x1="283.25" y1="627.40" x2="285.85" y2="627.40" stroke="#c8c8c8" stroke-width="0.8"/>
<line x1="283.25" y1="634.80" x2="285.85" y2="634.80" stroke="#c8c8c8" stroke-width="0.8"/>
<line x1="283.25" y1="642.20" x2="285.85" y2="642.20" stroke="#c8c8c8" stroke-width="0.8"/>
<line x1="283.25" y1="649.60" x2="285.85" y2="649.60" stroke="#c8c8c8" stroke-width="0.8"/>
<line x1="283.25" y1="657.00" x2="285.85" y2="657.00" stroke="#c8c8c8" stroke-width="0.8"/>
<line x1="283.25" y1="664.40" x2="285.85" y2="664.40" stroke="#c8c8c8" stroke-width="0.8"/>
<line x1="283.25" y1="671.80" x2="285.85" y2="671.80" stroke="#c8c8c8" stroke-width="0.8"/>
<line x1="283.25" y1="679.20" x2="285.85" y2="679.20" stroke="#c8c8c8" stroke-width="0.8"/>
<line x1="283.25" y1="686.60" x2="285.85" y2="686.60" stroke="#c8c8c8" stroke-width="0.8"/>
<line x1="283.25" y1="694.00" x2="285.85" y2="694.00" stroke="#c8c8c8" stroke-width="0.8"/>
<line x1="283.25" y1="701.40" x2="285.85" y2="701.40" stroke="#c8c8c8" stroke-width="0.8"/>
<line x1="283.25" y1="708.80" x2="285.85" y2="708.80" stroke="#c8c8c8" stroke-width="0.8"/>
<line x1="283.25" y1="716.20" x2="285.85" y2="716.20" stroke="#c8c8c8" stroke-width="0.8"/>
<line x1="283.25" y1="723.60" x2="285.85" y2="723.60" stroke="#c8c8c8" stroke-width="0.8"/>
<line x1="283.25" y1="731.00" x2="285.85" y2="731.00" stroke="#c8c8c8" stroke-width="0.8"/>
<line x1="283.25" y1="738.40" x2="285.85" y2="738.40" stroke="#c8c8c8" stroke-width="0.8"/>
<line x1="283.25" y1="745.80" x2="285.85" y2="745.80" stroke="#c8c8c8" stroke-width="0.8"/>
<line x1="283.25" y1="753.20" x2="285.85" y2="753.20" stroke="#c8c8c8" stroke-width="0.8"/>
<line x1="283.25" y1="760.60" x2="285.85" y2="760.60" stroke="#c8c8c8" stroke-width="0.8"/>
<line x1="19.22" y1="618.40" x2="19.22" y2="621.60" stroke="#c8c8c8" stroke-width="0.8"/>
<line x1="33.13" y1="618.40" x2="33.13" y2="621.60" stroke="#c8c8c8" stroke-width="0.8"/>
<line x1="47.05" y1="618.40" x2="47.05" y2="621.60" stroke="#c8c8c8" stroke-width="0.8"/>
<line x1="60.97" y1="618.40" x2="60.97" y2="621.60" stroke="#c8c8c8" stroke-width="0.8"/>
<line x1="74.89" y1="618.40" x2="74.89" y2="621.60" stroke="#c8c8c8" stroke-width="0.8"/>
<line x1="88.80" y1="618.40" x2="88.80" y2="621.60" stroke="#c8c8c8" stroke-width="0.8"/>
<line x1="102.72" y1="618.40" x2="102.72" y2="621.60" stroke="#c8c8c8" stroke-width="0.8"/>
<line x1="116.64" y1="618.40" x2="116.64" y2="621.60" stroke="#c8c8c8" stroke-width="0.8"/>
<line x1="130.56" y1="618.40" x2="130.56" y2="621.60" stroke="#c8c8c8" stroke-width="0.8"/>
<line x1="144.48" y1="618.40" x2="144.48" y2="621.60" stroke="#c8c8c8" stroke-width="0.8"/>
<line x1="158.39" y1="618.40" x2="158.39" y2="621.60" stroke="#c8c8c8" stroke-width="0.8"/>
<line x1="172.31" y1="618.40" x2="172.31" y2="621.60" stroke="#c8c8c8" stroke-width="0.8"/>
<line x1="186.23" y1="618.40" x2="186.23" y2="621.60" stroke="#c8c8c8" stroke-width="0.8"/>
<line x1="200.15" y1="618.40" x2="200.15" y2="621.60" stroke="#c8c8c8" stroke-width="0.8"/>
<line x1="214.06" y1="618.40" x2="214.06" y2="621.60" stroke="#c8c8c8" stroke-width="0.8"/>
<line x1="227.98" y1="618.40" x2="227.98" y2="621.60" stroke="#c8c8c8" stroke-width="0.8"/>
<line x1="241.90" y1="618.40" x2="241.90" y2="621.60" stroke="#c8c8c8" stroke-width="0.8"/>
<line x1="255.82" y1="618.40" x2="255.82" y2="621.60" stroke="#c8c8c8" stroke-width="0.8"/>
<line x1="269.73" y1="618.40" x2="269.73" y2="621.60" stroke="#c8c8c8" stroke-width="0.8"/>
<line x1="283.65" y1="618.40" x2="283.65" y2="621.60" stroke="#c8c8c8" stroke-width="0.8"/>
<line x1="297.57" y1="618.40" x2="297.57" y2="621.60" stroke="#c8c8c8" stroke-width="0.8"/>
<line x1="311.49" y1="618.40" x2="311.49" y2="621.60" stroke="#c8c8c8" stroke-width="0.8"/>
<line x1="325.40" y1="618.40" x2="325.40" y2="621.60" stroke="#c8c8c8" stroke-width="0.8"/>
<line x1="339.32" y1="618.40" x2="339.32" y2="621.60" stroke="#c8c8c8" stroke-width="0.8"/>
<line x1="353.24" y1="618.40" x2="353.24" y2="621.60" stroke="#c8c8c8" stroke-width="0.8"/>
<line x1="367.16" y1="618.40" x2="367.16" y2="621.60" stroke="#c8c8c8" stroke-width="0.8"/>
<line x1="381.07" y1="618.40" x2="381.07" y2="621.60" stroke="#c8c8c8" stroke-width="0.8"/>
<line x1="394.99" y1="618.40" x2="394.99" y2="621.60" stroke="#c8c8c8" stroke-width="0.8"/>
<line x1="408.91" y1="618.40" x2="408.91" y2="621.60" stroke="#c8c8c8" stroke-width="0.8"/>
<line x1="422.83" y1="618.40" x2="422.83" y2="621.60" stroke="#c8c8c8" stroke-width="0.8"/>
<line x1="436.74" y1="618.40" x2="436.74" y2="621.60" stroke="#c8c8c8" stroke-width="0.8"/>
<line x1="450.66" y1="618.40" x2="450.66" y2="621.60" stroke="#c8c8c8" stroke-width="0.8"/>
<line x1="464.58" y1="618.40" x2="464.58" y2="621.60" stroke="#c8c8c8" stroke-width="0.8"/>
<line x1="478.50" y1="618.40" x2="478.50" y2="621.60" stroke="#c8c8c8" stroke-width="0.8"/>
<line x1="492.41" y1="618.40" x2="492.41" y2="621.60" stroke="#c8c8c8" stroke-width="0.8"/>
<line x1="506.33" y1="618.40" x2="506.33" y2="621.60" stroke="#c8c8c8" stroke-width="0.8"/>
<line x1="520.25" y1="618.40" x2="520.25" y2="621.60" stroke="#c8c8c8" stroke-width="0.8"/>
<line x1="534.16" y1="618.40" x2="534.16" y2="621.60" stroke="#c8c8c8" stroke-width="0.8"/>
<line x1="548.08" y1="618.40" x2="548.08" y2="621.60" stroke="#c8c8c8" stroke-width="0.8"/>
<rect x="5.60" y="515.93" width="556.00" height="59.35" fill="#c4c4fb" opacity="0.93"/>
<rect x="13.40" y="512.71" width="1.30" height="32.89" fill="#fff" opacity="0.97"/>
<rect x="22.40" y="512.71" width="1.10" height="32.89" fill="#fff" opacity="0.97"/>
<rect x="28.00" y="512.71" width="1.50" height="32.89" fill="#fff" opacity="0.97"/>
<rect x="34.40" y="512.71" width="1.10" height="32.89" fill="#fff" opacity="0.97"/>
<rect x="40.80" y="512.71" width="1.10" height="32.89" fill="#fff" opacity="0.97"/>
<rect x="45.00" y="512.71" width="1.10" height="32.89" fill="#fff" opacity="0.97"/>
<rect x="48.60" y="512.71" width="1.10" height="32.89" fill="#fff" opacity="0.97"/>
<rect x="52.20" y="512.71" width="1.50" height="32.89" fill="#fff" opacity="0.97"/>
<rect x="56.40" y="512.71" width="1.30" height="32.89" fill="#fff" opacity="0.97"/>
<rect x="60.60" y="512.71" width="1.50" height="32.89" fill="#fff" opacity="0.97"/>
<rect x="64.20" y="512.71" width="1.10" height="32.89" fill="#fff" opacity="0.97"/>
<rect x="67.80" y="512.71" width="1.10" height="32.89" fill="#fff" opacity="0.97"/>
<rect x="75.40" y="512.71" width="1.50" height="32.89" fill="#fff" opacity="0.97"/>
<rect x="83.00" y="512.71" width="1.10" height="32.89" fill="#fff" opacity="0.97"/>
<rect x="90.60" y="512.71" width="1.10" height="32.89" fill="#fff" opacity="0.97"/>
<rect x="98.20" y="512.71" width="1.10" height="32.89" fill="#fff" opacity="0.97"/>
<rect x="101.80" y="512.71" width="1.50" height="32.89" fill="#fff" opacity="0.97"/>
<rect x="110.80" y="512.71" width="1.30" height="32.89" fill="#fff" opacity="0.97"/>
<rect x="115.00" y="512.71" width="1.50" height="32.89" fill="#fff" opacity="0.97"/>
<rect x="122.60" y="512.71" width="1.10" height="32.89" fill="#fff" opacity="0.97"/>
<rect x="131.60" y="512.71" width="1.50" height="32.89" fill="#fff" opacity="0.97"/>
<rect x="137.20" y="512.71" width="1.10" height="32.89" fill="#fff" opacity="0.97"/>
<rect x="141.40" y="512.71" width="1.10" height="32.89" fill="#fff" opacity="0.97"/>
<rect x="145.60" y="512.71" width="1.10" height="32.89" fill="#fff" opacity="0.97"/>
<rect x="149.20" y="512.71" width="1.10" height="32.89" fill="#fff" opacity="0.97"/>
<rect x="158.20" y="512.71" width="1.50" height="32.89" fill="#fff" opacity="0.97"/>
<rect x="161.80" y="512.71" width="1.50" height="32.89" fill="#fff" opacity="0.97"/>
<rect x="169.40" y="512.71" width="1.30" height="32.89" fill="#fff" opacity="0.97"/>
<rect x="175.00" y="512.71" width="1.10" height="32.89" fill="#fff" opacity="0.97"/>
<rect x="179.20" y="512.71" width="1.10" height="32.89" fill="#fff" opacity="0.97"/>
<rect x="188.20" y="512.71" width="1.50" height="32.89" fill="#fff" opacity="0.97"/>
<rect x="192.40" y="512.71" width="1.30" height="32.89" fill="#fff" opacity="0.97"/>
<rect x="197.20" y="512.71" width="1.30" height="32.89" fill="#fff" opacity="0.97"/>
<rect x="202.80" y="512.71" width="1.30" height="32.89" fill="#fff" opacity="0.97"/>
<rect x="206.40" y="512.71" width="1.30" height="32.89" fill="#fff" opacity="0.97"/>
<rect x="211.20" y="512.71" width="1.30" height="32.89" fill="#fff" opacity="0.97"/>
<rect x="214.80" y="512.71" width="1.50" height="32.89" fill="#fff" opacity="0.97"/>
<rect x="223.80" y="512.71" width="1.30" height="32.89" fill="#fff" opacity="0.97"/>
<rect x="228.60" y="512.71" width="1.50" height="32.89" fill="#fff" opacity="0.97"/>
<rect x="235.00" y="512.71" width="1.30" height="32.89" fill="#fff" opacity="0.97"/>
<rect x="244.00" y="512.71" width="1.30" height="32.89" fill="#fff" opacity="0.97"/>
<rect x="250.40" y="512.71" width="1.50" height="32.89" fill="#fff" opacity="0.97"/>
<rect x="254.00" y="512.71" width="1.30" height="32.89" fill="#fff" opacity="0.97"/>
<rect x="257.60" y="512.71" width="1.30" height="32.89" fill="#fff" opacity="0.97"/>
<rect x="264.00" y="512.71" width="1.10" height="32.89" fill="#fff" opacity="0.97"/>
<rect x="268.80" y="512.71" width="1.30" height="32.89" fill="#fff" opacity="0.97"/>
<rect x="276.40" y="512.71" width="1.10" height="32.89" fill="#fff" opacity="0.97"/>
<rect x="282.80" y="512.71" width="1.50" height="32.89" fill="#fff" opacity="0.97"/>
<rect x="287.00" y="512.71" width="1.50" height="32.89" fill="#fff" opacity="0.97"/>
<rect x="296.00" y="512.71" width="1.10" height="32.89" fill="#fff" opacity="0.97"/>
<rect x="302.40" y="512.71" width="1.30" height="32.89" fill="#fff" opacity="0.97"/>
<rect x="306.60" y="512.71" width="1.30" height="32.89" fill="#fff" opacity="0.97"/>
<rect x="310.20" y="512.71" width="1.50" height="32.89" fill="#fff" opacity="0.97"/>
<rect x="314.40" y="512.71" width="1.30" height="32.89" fill="#fff" opacity="0.97"/>
<rect x="323.40" y="512.71" width="1.10" height="32.89" fill="#fff" opacity="0.97"/>
<rect x="327.00" y="512.71" width="1.30" height="32.89" fill="#fff" opacity="0.97"/>
<rect x="332.60" y="512.71" width="1.10" height="32.89" fill="#fff" opacity="0.97"/>
<rect x="338.20" y="512.71" width="1.50" height="32.89" fill="#fff" opacity="0.97"/>
<rect x="347.20" y="512.71" width="1.10" height="32.89" fill="#fff" opacity="0.97"/>
<rect x="352.80" y="512.71" width="1.50" height="32.89" fill="#fff" opacity="0.97"/>
<rect x="357.60" y="512.71" width="1.50" height="32.89" fill="#fff" opacity="0.97"/>
<rect x="362.40" y="512.71" width="1.50" height="32.89" fill="#fff" opacity="0.97"/>
<rect x="366.60" y="512.71" width="1.30" height="32.89" fill="#fff" opacity="0.97"/>
<rect x="375.60" y="512.71" width="1.10" height="32.89" fill="#fff" opacity="0.97"/>
<rect x="383.20" y="512.71" width="1.10" height="32.89" fill="#fff" opacity="0.97"/>
<rect x="388.80" y="512.71" width="1.10" height="32.89" fill="#fff" opacity="0.97"/>
<rect x="392.40" y="512.71" width="1.50" height="32.89" fill="#fff" opacity="0.97"/>
<rect x="401.40" y="512.71" width="1.10" height="32.89" fill="#fff" opacity="0.97"/>
<rect x="407.00" y="512.71" width="1.50" height="32.89" fill="#fff" opacity="0.97"/>
<rect x="413.40" y="512.71" width="1.10" height="32.89" fill="#fff" opacity="0.97"/>
<rect x="421.00" y="512.71" width="1.30" height="32.89" fill="#fff" opacity="0.97"/>
<rect x="425.80" y="512.71" width="1.10" height="32.89" fill="#fff" opacity="0.97"/>
<rect x="431.40" y="512.71" width="1.30" height="32.89" fill="#fff" opacity="0.97"/>
<rect x="439.00" y="512.71" width="1.10" height="32.89" fill="#fff" opacity="0.97"/>
<rect x="444.60" y="512.71" width="1.50" height="32.89" fill="#fff" opacity="0.97"/>
<rect x="448.20" y="512.71" width="1.30" height="32.89" fill="#fff" opacity="0.97"/>
<rect x="452.40" y="512.71" width="1.30" height="32.89" fill="#fff" opacity="0.97"/>
<rect x="457.20" y="512.71" width="1.30" height="32.89" fill="#fff" opacity="0.97"/>
<rect x="463.60" y="512.71" width="1.50" height="32.89" fill="#fff" opacity="0.97"/>
<rect x="467.80" y="512.71" width="1.30" height="32.89" fill="#fff" opacity="0.97"/>
<rect x="475.40" y="512.71" width="1.10" height="32.89" fill="#fff" opacity="0.97"/>
<rect x="481.00" y="512.71" width="1.10" height="32.89" fill="#fff" opacity="0.97"/>
<rect x="487.40" y="512.71" width="1.50" height="32.89" fill="#fff" opacity="0.97"/>
<rect x="496.40" y="512.71" width="1.50" height="32.89" fill="#fff" opacity="0.97"/>
<rect x="505.40" y="512.71" width="1.50" height="32.89" fill="#fff" opacity="0.97"/>
<rect x="513.00" y="512.71" width="1.10" height="32.89" fill="#fff" opacity="0.97"/>
<rect x="517.80" y="512.71" width="1.50" height="32.89" fill="#fff" opacity="0.97"/>
<rect x="522.60" y="512.71" width="1.50" height="32.89" fill="#fff" opacity="0.97"/>
<rect x="526.80" y="512.71" width="1.30" height="32.89" fill="#fff" opacity="0.97"/>
<rect x="534.40" y="512.71" width="1.50" height="32.89" fill="#fff" opacity="0.97"/>
<rect x="542.00" y="512.71" width="1.30" height="32.89" fill="#fff" opacity="0.97"/>
<rect x="546.20" y="512.71" width="1.30" height="32.89" fill="#fff" opacity="0.97"/>
<rect x="551.80" y="512.71" width="1.50" height="32.89" fill="#fff" opacity="0.97"/>
<rect x="11.80" y="545.61" width="1.50" height="32.89" fill="#fff" opacity="0.97"/>
<rect x="16.00" y="545.61" width="1.10" height="32.89" fill="#fff" opacity="0.97"/>
<rect x="20.80" y="545.61" width="1.30" height="32.89" fill="#fff" opacity="0.97"/>
<rect x="28.40" y="545.61" width="1.50" height="32.89" fill="#fff" opacity="0.97"/>
<rect x="32.60" y="545.61" width="1.50" height="32.89" fill="#fff" opacity="0.97"/>
<rect x="36.80" y="545.61" width="1.30" height="32.89" fill="#fff" opacity="0.97"/>
<rect x="41.60" y="545.61" width="1.50" height="32.89" fill="#fff" opacity="0.97"/>
<rect x="50.60" y="545.61" width="1.50" height="32.89" fill="#fff" opacity="0.97"/>
<rect x="54.80" y="545.61" width="1.50" height="32.89" fill="#fff" opacity="0.97"/>
<rect x="59.00" y="545.61" width="1.10" height="32.89" fill="#fff" opacity="0.97"/>
<rect x="66.60" y="545.61" width="1.30" height="32.89" fill="#fff" opacity="0.97"/>
<rect x="73.00" y="545.61" width="1.50" height="32.89" fill="#fff" opacity="0.97"/>
<rect x="77.80" y="545.61" width="1.10" height="32.89" fill="#fff" opacity="0.97"/>
<rect x="82.00" y="545.61" width="1.30" height="32.89" fill="#fff" opacity="0.97"/>
<rect x="86.20" y="545.61" width="1.30" height="32.89" fill="#fff" opacity="0.97"/>
<rect x="93.80" y="545.61" width="1.10" height="32.89" fill="#fff" opacity="0.97"/>
<rect x="98.00" y="545.61" width="1.50" height="32.89" fill="#fff" opacity="0.97"/>
<rect x="101.60" y="545.61" width="1.10" height="32.89" fill="#fff" opacity="0.97"/>
<rect x="107.20" y="545.61" width="1.10" height="32.89" fill="#fff" opacity="0.97"/>
<rect x="111.40" y="545.61" width="1.30" height="32.89" fill="#fff" opacity="0.97"/>
<rect x="119.00" y="545.61" width="1.30" height="32.89" fill="#fff" opacity="0.97"/>
<rect x="124.60" y="545.61" width="1.30" height="32.89" fill="#fff" opacity="0.97"/>
<rect x="128.80" y="545.61" width="1.10" height="32.89" fill="#fff" opacity="0.97"/>
<rect x="136.40" y="545.61" width="1.10" height="32.89" fill="#fff" opacity="0.97"/>
<rect x="141.20" y="545.61" width="1.10" height="32.89" fill="#fff" opacity="0.97"/>
<rect x="146.80" y="545.61" width="1.30" height="32.89" fill="#fff" opacity="0.97"/>
<rect x="150.40" y="545.61" width="1.10" height="32.89" fill="#fff" opacity="0.97"/>
<rect x="156.00" y="545.61" width="1.30" height="32.89" fill="#fff" opacity="0.97"/>
<rect x="163.60" y="545.61" width="1.10" height="32.89" fill="#fff" opacity="0.97"/>
<rect x="170.00" y="545.61" width="1.50" height="32.89" fill="#fff" opacity="0.97"/>
<rect x="174.80" y="545.61" width="1.30" height="32.89" fill="#fff" opacity="0.97"/>
<rect x="178.40" y="545.61" width="1.10" height="32.89" fill="#fff" opacity="0.97"/>
<rect x="183.20" y="545.61" width="1.50" height="32.89" fill="#fff" opacity="0.97"/>
<rect x="190.80" y="545.61" width="1.30" height="32.89" fill="#fff" opacity="0.97"/>
<rect x="194.40" y="545.61" width="1.50" height="32.89" fill="#fff" opacity="0.97"/>
<rect x="198.60" y="545.61" width="1.30" height="32.89" fill="#fff" opacity="0.97"/>
<rect x="206.20" y="545.61" width="1.50" height="32.89" fill="#fff" opacity="0.97"/>
<rect x="212.60" y="545.61" width="1.50" height="32.89" fill="#fff" opacity="0.97"/>
<rect x="220.20" y="545.61" width="1.30" height="32.89" fill="#fff" opacity="0.97"/>
<rect x="229.20" y="545.61" width="1.10" height="32.89" fill="#fff" opacity="0.97"/>
<rect x="236.80" y="545.61" width="1.50" height="32.89" fill="#fff" opacity="0.97"/>
<rect x="244.40" y="545.61" width="1.50" height="32.89" fill="#fff" opacity="0.97"/>
<rect x="252.00" y="545.61" width="1.50" height="32.89" fill="#fff" opacity="0.97"/>
<rect x="261.00" y="545.61" width="1.10" height="32.89" fill="#fff" opacity="0.97"/>
<rect x="268.60" y="545.61" width="1.10" height="32.89" fill="#fff" opacity="0.97"/>
<rect x="276.20" y="545.61" width="1.10" height="32.89" fill="#fff" opacity="0.97"/>
<rect x="281.80" y="545.61" width="1.30" height="32.89" fill="#fff" opacity="0.97"/>
<rect x="286.60" y="545.61" width="1.30" height="32.89" fill="#fff" opacity="0.97"/>
<rect x="294.20" y="545.61" width="1.50" height="32.89" fill="#fff" opacity="0.97"/>
<rect x="297.80" y="545.61" width="1.30" height="32.89" fill="#fff" opacity="0.97"/>
<rect x="302.00" y="545.61" width="1.30" height="32.89" fill="#fff" opacity="0.97"/>
<rect x="309.60" y="545.61" width="1.50" height="32.89" fill="#fff" opacity="0.97"/>
<rect x="317.20" y="545.61" width="1.10" height="32.89" fill="#fff" opacity="0.97"/>
<rect x="322.00" y="545.61" width="1.30" height="32.89" fill="#fff" opacity="0.97"/>
<rect x="327.60" y="545.61" width="1.30" height="32.89" fill="#fff" opacity="0.97"/>
<rect x="331.20" y="545.61" width="1.50" height="32.89" fill="#fff" opacity="0.97"/>
<rect x="340.20" y="545.61" width="1.30" height="32.89" fill="#fff" opacity="0.97"/>
<rect x="346.60" y="545.61" width="1.50" height="32.89" fill="#fff" opacity="0.97"/>
<rect x="354.20" y="545.61" width="1.10" height="32.89" fill="#fff" opacity="0.97"/>
<rect x="361.80" y="545.61" width="1.30" height="32.89" fill="#fff" opacity="0.97"/>
<rect x="370.80" y="545.61" width="1.10" height="32.89" fill="#fff" opacity="0.97"/>
<rect x="376.40" y="545.61" width="1.30" height="32.89" fill="#fff" opacity="0.97"/>
<rect x="380.00" y="545.61" width="1.10" height="32.89" fill="#fff" opacity="0.97"/>
<rect x="384.80" y="545.61" width="1.50" height="32.89" fill="#fff" opacity="0.97"/>
<rect x="389.00" y="545.61" width="1.10" height="32.89" fill="#fff" opacity="0.97"/>
<rect x="396.60" y="545.61" width="1.10" height="32.89" fill="#fff" opacity="0.97"/>
<rect x="403.00" y="545.61" width="1.30" height="32.89" fill="#fff" opacity="0.97"/>
<rect x="406.60" y="545.61" width="1.50" height="32.89" fill="#fff" opacity="0.97"/>
<rect x="412.20" y="545.61" width="1.50" height="32.89" fill="#fff" opacity="0.97"/>
<rect x="416.40" y="545.61" width="1.50" height="32.89" fill="#fff" opacity="0.97"/>
<rect x="422.00" y="545.61" width="1.50" height="32.89" fill="#fff" opacity="0.97"/>
<rect x="425.60" y="545.61" width="1.50" height="32.89" fill="#fff" opacity="0.97"/>
<rect x="434.60" y="545.61" width="1.30" height="32.89" fill="#fff" opacity="0.97"/>
<rect x="441.00" y="545.61" width="1.30" height="32.89" fill="#fff" opacity="0.97"/>
<rect x="446.60" y="545.61" width="1.50" height="32.89" fill="#fff" opacity="0.97"/>
<rect x="452.20" y="545.61" width="1.10" height="32.89" fill="#fff" opacity="0.97"/>
<rect x="459.80" y="545.61" width="1.10" height="32.89" fill="#fff" opacity="0.97"/>
<rect x="465.40" y="545.61" width="1.50" height="32.89" fill="#fff" opacity="0.97"/>
<rect x="474.40" y="545.61" width="1.10" height="32.89" fill="#fff" opacity="0.97"/>
<rect x="482.00" y="545.61" width="1.50" height="32.89" fill="#fff" opacity="0.97"/>
<rect x="486.80" y="545.61" width="1.50" height="32.89" fill="#fff" opacity="0.97"/>
<rect x="490.40" y="545.61" width="1.30" height="32.89" fill="#fff" opacity="0.97"/>
<rect x="495.20" y="545.61" width="1.30" height="32.89" fill="#fff" opacity="0.97"/>
<rect x="500.80" y="545.61" width="1.10" height="32.89" fill="#fff" opacity="0.97"/>
<rect x="504.40" y="545.61" width="1.10" height="32.89" fill="#fff" opacity="0.97"/>
<rect x="510.00" y="545.61" width="1.30" height="32.89" fill="#fff" opacity="0.97"/>
<rect x="517.60" y="545.61" width="1.50" height="32.89" fill="#fff" opacity="0.97"/>
<rect x="525.20" y="545.61" width="1.30" height="32.89" fill="#fff" opacity="0.97"/>
<rect x="531.60" y="545.61" width="1.30" height="32.89" fill="#fff" opacity="0.97"/>
<rect x="535.20" y="545.61" width="1.10" height="32.89" fill="#fff" opacity="0.97"/>
<rect x="540.00" y="545.61" width="1.50" height="32.89" fill="#fff" opacity="0.97"/>
<rect x="545.60" y="545.61" width="1.50" height="32.89" fill="#fff" opacity="0.97"/>
<rect x="549.80" y="545.61" width="1.30" height="32.89" fill="#fff" opacity="0.97"/>
<rect x="555.40" y="545.61" width="1.10" height="32.89" fill="#fff" opacity="0.97"/>
<rect x="559.60" y="545.61" width="1.10" height="32.89" fill="#fff" opacity="0.97"/>
<rect x="5.60" y="513.21" width="556.00" height="3.42" fill="#9c9cfa" opacity="0.85"/>
<rect x="5.80" y="512.89" width="1.10" height="3.74" fill="#3a3af2"/>
<rect x="8.40" y="512.89" width="1.40" height="3.49" fill="#3a3af2"/>
<rect x="11.30" y="512.81" width="2.10" height="3.80" fill="#3a3af2"/>
<rect x="14.40" y="513.07" width="2.10" height="3.85" fill="#3a3af2"/>
<rect x="17.70" y="512.94" width="2.10" height="3.91" fill="#3a3af2"/>
<rect x="20.80" y="513.21" width="2.10" height="3.78" fill="#3a3af2"/>
<rect x="24.10" y="513.11" width="1.70" height="3.57" fill="#3a3af2"/>
<rect x="27.30" y="513.04" width="2.10" height="3.74" fill="#3a3af2"/>
<rect x="30.60" y="512.84" width="1.40" height="3.85" fill="#3a3af2"/>
<rect x="32.80" y="512.88" width="1.10" height="3.87" fill="#3a3af2"/>
<rect x="34.90" y="512.96" width="1.70" height="3.43" fill="#3a3af2"/>
<rect x="37.40" y="512.83" width="1.40" height="3.75" fill="#3a3af2"/>
<rect x="40.00" y="512.98" width="1.10" height="3.85" fill="#3a3af2"/>
<rect x="42.10" y="513.07" width="2.10" height="3.50" fill="#3a3af2"/>
<rect x="45.70" y="512.97" width="1.40" height="3.77" fill="#3a3af2"/>
<rect x="47.90" y="513.13" width="1.70" height="3.77" fill="#3a3af2"/>
<rect x="50.40" y="512.94" width="2.10" height="3.48" fill="#3a3af2"/>
<rect x="53.30" y="513.04" width="1.70" height="3.83" fill="#3a3af2"/>
<rect x="56.50" y="512.99" width="2.10" height="3.66" fill="#3a3af2"/>
<rect x="59.60" y="513.11" width="2.10" height="3.50" fill="#3a3af2"/>
<rect x="62.50" y="512.88" width="1.40" height="3.66" fill="#3a3af2"/>
<rect x="65.40" y="512.88" width="1.70" height="3.61" fill="#3a3af2"/>
<rect x="68.60" y="513.14" width="1.10" height="3.60" fill="#3a3af2"/>
<rect x="70.50" y="512.97" width="1.10" height="3.76" fill="#3a3af2"/>
<rect x="72.80" y="513.01" width="1.10" height="3.66" fill="#3a3af2"/>
<rect x="74.90" y="513.13" width="1.10" height="3.63" fill="#3a3af2"/>
<rect x="77.00" y="513.17" width="1.70" height="3.75" fill="#3a3af2"/>
<rect x="79.90" y="512.90" width="2.10" height="3.70" fill="#3a3af2"/>
<rect x="83.00" y="513.04" width="1.70" height="3.63" fill="#3a3af2"/>
<rect x="85.50" y="513.09" width="1.70" height="3.84" fill="#3a3af2"/>
<rect x="88.70" y="513.01" width="1.70" height="3.56" fill="#3a3af2"/>
<rect x="91.60" y="512.95" width="1.40" height="3.82" fill="#3a3af2"/>
<rect x="94.20" y="513.09" width="1.40" height="3.57" fill="#3a3af2"/>
<rect x="96.40" y="513.05" width="1.10" height="3.70" fill="#3a3af2"/>
<rect x="99.00" y="513.05" width="1.10" height="3.48" fill="#3a3af2"/>
<rect x="100.90" y="512.88" width="1.40" height="3.66" fill="#3a3af2"/>
<rect x="103.10" y="512.97" width="2.10" height="3.73" fill="#3a3af2"/>
<rect x="106.00" y="513.20" width="1.40" height="3.74" fill="#3a3af2"/>
<rect x="108.40" y="512.95" width="1.10" height="3.86" fill="#3a3af2"/>
<rect x="111.00" y="512.85" width="1.10" height="3.75" fill="#3a3af2"/>
<rect x="113.30" y="512.90" width="1.40" height="3.70" fill="#3a3af2"/>
<rect x="115.90" y="513.14" width="1.70" height="3.44" fill="#3a3af2"/>
<rect x="118.40" y="512.99" width="2.10" height="3.71" fill="#3a3af2"/>
<rect x="121.30" y="512.98" width="2.10" height="3.44" fill="#3a3af2"/>
<rect x="124.20" y="512.98" width="2.10" height="3.88" fill="#3a3af2"/>
<rect x="127.80" y="513.21" width="1.10" height="3.61" fill="#3a3af2"/>
<rect x="129.90" y="512.90" width="2.10" height="3.70" fill="#3a3af2"/>
<rect x="132.80" y="513.13" width="2.10" height="3.50" fill="#3a3af2"/>
<rect x="135.70" y="513.21" width="2.10" height="3.76" fill="#3a3af2"/>
<rect x="138.60" y="513.12" width="1.10" height="3.48" fill="#3a3af2"/>
<rect x="141.20" y="513.10" width="1.10" height="3.71" fill="#3a3af2"/>
<rect x="143.80" y="512.84" width="1.40" height="3.60" fill="#3a3af2"/>
<rect x="146.20" y="513.09" width="1.10" height="3.70" fill="#3a3af2"/>
<rect x="148.80" y="512.94" width="2.10" height="3.87" fill="#3a3af2"/>
<rect x="151.70" y="513.21" width="1.10" height="3.43" fill="#3a3af2"/>
<rect x="153.60" y="513.09" width="2.10" height="3.79" fill="#3a3af2"/>
<rect x="156.70" y="512.97" width="2.10" height="3.58" fill="#3a3af2"/>
<rect x="160.30" y="512.94" width="2.10" height="3.49" fill="#3a3af2"/>
<rect x="163.20" y="512.83" width="1.70" height="3.50" fill="#3a3af2"/>
<rect x="166.40" y="513.06" width="2.10" height="3.81" fill="#3a3af2"/>
<rect x="169.70" y="513.10" width="1.70" height="3.45" fill="#3a3af2"/>
<rect x="172.60" y="512.88" width="1.10" height="3.72" fill="#3a3af2"/>
<rect x="174.90" y="512.82" width="2.10" height="3.54" fill="#3a3af2"/>
<rect x="178.50" y="512.97" width="2.10" height="3.87" fill="#3a3af2"/>
<rect x="182.10" y="512.94" width="1.70" height="3.58" fill="#3a3af2"/>
<rect x="185.00" y="513.15" width="2.10" height="3.88" fill="#3a3af2"/>
<rect x="187.90" y="512.88" width="1.70" height="3.83" fill="#3a3af2"/>
<rect x="190.60" y="512.82" width="1.70" height="3.82" fill="#3a3af2"/>
<rect x="193.80" y="513.00" width="1.70" height="3.69" fill="#3a3af2"/>
<rect x="197.00" y="513.13" width="2.10" height="3.80" fill="#3a3af2"/>
<rect x="200.10" y="512.97" width="1.70" height="3.76" fill="#3a3af2"/>
<rect x="203.30" y="512.84" width="1.40" height="3.71" fill="#3a3af2"/>
<rect x="205.50" y="513.03" width="2.10" height="3.47" fill="#3a3af2"/>
<rect x="208.80" y="513.12" width="1.10" height="3.71" fill="#3a3af2"/>
<rect x="211.10" y="513.02" width="1.70" height="3.72" fill="#3a3af2"/>
<rect x="213.80" y="513.14" width="1.40" height="3.51" fill="#3a3af2"/>
<rect x="216.40" y="512.98" width="1.70" height="3.60" fill="#3a3af2"/>
<rect x="219.10" y="513.19" width="1.40" height="3.92" fill="#3a3af2"/>
<rect x="221.70" y="513.06" width="1.10" height="3.65" fill="#3a3af2"/>
<rect x="223.60" y="513.09" width="1.40" height="3.44" fill="#3a3af2"/>
<rect x="226.20" y="513.17" width="1.10" height="3.52" fill="#3a3af2"/>
<rect x="228.80" y="513.11" width="1.40" height="3.81" fill="#3a3af2"/>
<rect x="231.70" y="512.83" width="1.10" height="3.80" fill="#3a3af2"/>
<rect x="233.80" y="512.87" width="1.70" height="3.59" fill="#3a3af2"/>
<rect x="236.50" y="513.18" width="2.10" height="3.45" fill="#3a3af2"/>
<rect x="239.80" y="513.02" width="2.10" height="3.84" fill="#3a3af2"/>
<rect x="242.70" y="512.84" width="2.10" height="3.77" fill="#3a3af2"/>
<rect x="245.60" y="513.08" width="1.70" height="3.54" fill="#3a3af2"/>
<rect x="248.10" y="513.14" width="2.10" height="3.85" fill="#3a3af2"/>
<rect x="251.40" y="512.82" width="1.40" height="3.53" fill="#3a3af2"/>
<rect x="253.60" y="512.84" width="1.70" height="3.45" fill="#3a3af2"/>
<rect x="256.10" y="513.11" width="1.10" height="3.68" fill="#3a3af2"/>
<rect x="258.70" y="513.17" width="1.10" height="3.58" fill="#3a3af2"/>
<rect x="260.60" y="512.94" width="1.40" height="3.57" fill="#3a3af2"/>
<rect x="263.50" y="513.02" width="1.10" height="3.61" fill="#3a3af2"/>
<rect x="266.10" y="513.06" width="1.10" height="3.61" fill="#3a3af2"/>
<rect x="268.70" y="512.89" width="1.40" height="3.88" fill="#3a3af2"/>
<rect x="270.90" y="512.93" width="2.10" height="3.52" fill="#3a3af2"/>
<rect x="273.80" y="512.84" width="1.40" height="3.53" fill="#3a3af2"/>
<rect x="276.40" y="512.90" width="1.40" height="3.90" fill="#3a3af2"/>
<rect x="279.30" y="512.96" width="1.10" height="3.65" fill="#3a3af2"/>
<rect x="281.60" y="512.88" width="1.70" height="3.66" fill="#3a3af2"/>
<rect x="284.50" y="513.08" width="1.40" height="3.79" fill="#3a3af2"/>
<rect x="286.90" y="512.99" width="2.10" height="3.49" fill="#3a3af2"/>
<rect x="290.00" y="513.04" width="1.70" height="3.54" fill="#3a3af2"/>
<rect x="292.50" y="512.98" width="1.70" height="3.57" fill="#3a3af2"/>
<rect x="295.20" y="513.02" width="1.70" height="3.58" fill="#3a3af2"/>
<rect x="298.40" y="513.15" width="1.10" height="3.68" fill="#3a3af2"/>
<rect x="300.50" y="512.88" width="2.10" height="3.48" fill="#3a3af2"/>
<rect x="303.60" y="513.04" width="1.70" height="3.55" fill="#3a3af2"/>
<rect x="306.30" y="513.17" width="1.40" height="3.57" fill="#3a3af2"/>
<rect x="308.70" y="512.88" width="1.10" height="3.91" fill="#3a3af2"/>
<rect x="310.80" y="513.04" width="1.10" height="3.68" fill="#3a3af2"/>
<rect x="312.90" y="513.21" width="2.10" height="3.84" fill="#3a3af2"/>
<rect x="316.20" y="513.07" width="1.40" height="3.44" fill="#3a3af2"/>
<rect x="319.10" y="513.10" width="1.40" height="3.51" fill="#3a3af2"/>
<rect x="321.50" y="512.93" width="1.40" height="3.52" fill="#3a3af2"/>
<rect x="323.70" y="512.86" width="1.10" height="3.79" fill="#3a3af2"/>
<rect x="326.00" y="513.13" width="1.40" height="3.73" fill="#3a3af2"/>
<rect x="328.40" y="513.13" width="1.70" height="3.45" fill="#3a3af2"/>
<rect x="331.60" y="513.00" width="1.10" height="3.60" fill="#3a3af2"/>
<rect x="333.90" y="513.18" width="2.10" height="3.63" fill="#3a3af2"/>
<rect x="337.50" y="512.86" width="1.40" height="3.55" fill="#3a3af2"/>
<rect x="339.90" y="513.20" width="1.70" height="3.77" fill="#3a3af2"/>
<rect x="342.40" y="513.00" width="1.70" height="3.64" fill="#3a3af2"/>
<rect x="344.90" y="513.07" width="1.10" height="3.54" fill="#3a3af2"/>
<rect x="347.20" y="512.98" width="2.10" height="3.87" fill="#3a3af2"/>
<rect x="350.50" y="512.83" width="1.10" height="3.67" fill="#3a3af2"/>
<rect x="352.40" y="513.20" width="1.40" height="3.90" fill="#3a3af2"/>
<rect x="354.80" y="513.14" width="1.40" height="3.58" fill="#3a3af2"/>
<rect x="357.00" y="513.17" width="1.10" height="3.77" fill="#3a3af2"/>
<rect x="359.10" y="513.20" width="1.70" height="3.72" fill="#3a3af2"/>
<rect x="362.30" y="512.93" width="1.40" height="3.47" fill="#3a3af2"/>
<rect x="364.50" y="513.19" width="1.40" height="3.48" fill="#3a3af2"/>
<rect x="367.40" y="513.17" width="1.70" height="3.48" fill="#3a3af2"/>
<rect x="370.10" y="512.87" width="1.40" height="3.49" fill="#3a3af2"/>
<rect x="373.00" y="513.15" width="2.10" height="3.83" fill="#3a3af2"/>
<rect x="376.60" y="512.97" width="2.10" height="3.72" fill="#3a3af2"/>
<rect x="379.50" y="512.82" width="2.10" height="3.45" fill="#3a3af2"/>
<rect x="382.80" y="513.05" width="1.70" height="3.84" fill="#3a3af2"/>
<rect x="386.00" y="512.89" width="1.70" height="3.85" fill="#3a3af2"/>
<rect x="388.50" y="513.01" width="1.70" height="3.90" fill="#3a3af2"/>
<rect x="391.40" y="512.86" width="1.40" height="3.75" fill="#3a3af2"/>
<rect x="393.60" y="513.17" width="1.70" height="3.52" fill="#3a3af2"/>
<rect x="396.50" y="513.13" width="2.10" height="3.76" fill="#3a3af2"/>
<rect x="399.60" y="513.04" width="1.40" height="3.62" fill="#3a3af2"/>
<rect x="402.50" y="512.89" width="1.10" height="3.86" fill="#3a3af2"/>
<rect x="404.40" y="512.87" width="1.10" height="3.73" fill="#3a3af2"/>
<rect x="406.70" y="512.96" width="1.10" height="3.55" fill="#3a3af2"/>
<rect x="408.60" y="513.12" width="2.10" height="3.44" fill="#3a3af2"/>
<rect x="411.50" y="513.07" width="1.70" height="3.50" fill="#3a3af2"/>
<rect x="414.00" y="513.18" width="1.70" height="3.72" fill="#3a3af2"/>
<rect x="416.70" y="513.16" width="2.10" height="3.49" fill="#3a3af2"/>
<rect x="420.00" y="512.98" width="2.10" height="3.56" fill="#3a3af2"/>
<rect x="422.90" y="512.88" width="1.70" height="3.73" fill="#3a3af2"/>
<rect x="425.60" y="513.13" width="2.10" height="3.78" fill="#3a3af2"/>
<rect x="429.20" y="512.97" width="1.70" height="3.66" fill="#3a3af2"/>
<rect x="432.10" y="513.12" width="1.10" height="3.53" fill="#3a3af2"/>
<rect x="434.70" y="513.21" width="2.10" height="3.60" fill="#3a3af2"/>
<rect x="437.80" y="512.99" width="1.70" height="3.67" fill="#3a3af2"/>
<rect x="440.70" y="513.09" width="1.40" height="3.81" fill="#3a3af2"/>
<rect x="443.10" y="512.97" width="1.10" height="3.60" fill="#3a3af2"/>
<rect x="445.00" y="512.88" width="2.10" height="3.60" fill="#3a3af2"/>
<rect x="447.90" y="512.82" width="1.40" height="3.76" fill="#3a3af2"/>
<rect x="450.30" y="513.08" width="2.10" height="3.60" fill="#3a3af2"/>
<rect x="453.40" y="512.88" width="1.70" height="3.68" fill="#3a3af2"/>
<rect x="456.60" y="512.90" width="1.70" height="3.78" fill="#3a3af2"/>
<rect x="459.30" y="512.86" width="2.10" height="3.42" fill="#3a3af2"/>
<rect x="462.20" y="513.05" width="2.10" height="3.92" fill="#3a3af2"/>
<rect x="465.30" y="512.87" width="2.10" height="3.56" fill="#3a3af2"/>
<rect x="468.20" y="512.87" width="2.10" height="3.77" fill="#3a3af2"/>
<rect x="471.50" y="513.09" width="1.70" height="3.62" fill="#3a3af2"/>
<rect x="474.70" y="513.21" width="1.70" height="3.79" fill="#3a3af2"/>
<rect x="477.90" y="513.03" width="2.10" height="3.51" fill="#3a3af2"/>
<rect x="481.20" y="513.04" width="1.40" height="3.61" fill="#3a3af2"/>
<rect x="483.60" y="512.88" width="1.10" height="3.59" fill="#3a3af2"/>
<rect x="485.70" y="513.13" width="1.70" height="3.63" fill="#3a3af2"/>
<rect x="488.20" y="513.19" width="1.10" height="3.70" fill="#3a3af2"/>
<rect x="490.80" y="512.84" width="1.70" height="3.81" fill="#3a3af2"/>
<rect x="494.00" y="513.06" width="2.10" height="3.60" fill="#3a3af2"/>
<rect x="497.30" y="512.83" width="2.10" height="3.76" fill="#3a3af2"/>
<rect x="500.40" y="513.05" width="1.10" height="3.67" fill="#3a3af2"/>
<rect x="502.50" y="512.83" width="1.40" height="3.66" fill="#3a3af2"/>
<rect x="505.40" y="512.94" width="1.70" height="3.79" fill="#3a3af2"/>
<rect x="507.90" y="513.07" width="1.40" height="3.60" fill="#3a3af2"/>
<rect x="510.10" y="513.01" width="1.70" height="3.48" fill="#3a3af2"/>
<rect x="513.00" y="512.88" width="1.70" height="3.92" fill="#3a3af2"/>
<rect x="516.20" y="513.00" width="1.40" height="3.83" fill="#3a3af2"/>
<rect x="518.60" y="513.05" width="1.40" height="3.45" fill="#3a3af2"/>
<rect x="520.80" y="512.98" width="1.70" height="3.74" fill="#3a3af2"/>
<rect x="523.30" y="513.21" width="2.10" height="3.42" fill="#3a3af2"/>
<rect x="526.20" y="513.05" width="1.70" height="3.47" fill="#3a3af2"/>
<rect x="528.70" y="513.13" width="1.10" height="3.67" fill="#3a3af2"/>
<rect x="531.00" y="512.98" width="1.40" height="3.63" fill="#3a3af2"/>
<rect x="533.20" y="513.15" width="1.40" height="3.80" fill="#3a3af2"/>
<rect x="535.40" y="513.17" width="1.10" height="3.51" fill="#3a3af2"/>
<rect x="538.00" y="512.97" width="2.10" height="3.82" fill="#3a3af2"/>
<rect x="540.90" y="512.94" width="1.10" height="3.71" fill="#3a3af2"/>
<rect x="543.00" y="513.07" width="1.40" height="3.51" fill="#3a3af2"/>
<rect x="545.60" y="512.87" width="1.10" height="3.90" fill="#3a3af2"/>
<rect x="547.50" y="513.14" width="1.70" height="3.73" fill="#3a3af2"/>
<rect x="550.00" y="513.12" width="1.10" height="3.62" fill="#3a3af2"/>
<rect x="551.90" y="513.19" width="2.10" height="3.54" fill="#3a3af2"/>
<rect x="555.00" y="513.15" width="1.10" height="3.71" fill="#3a3af2"/>
<rect x="557.10" y="513.21" width="1.70" height="3.85" fill="#3a3af2"/>
<rect x="560.30" y="513.04" width="0.70" height="3.55" fill="#3a3af2"/>
<rect x="5.60" y="574.58" width="556.00" height="3.42" fill="#9c9cfa" opacity="0.85"/>
<rect x="5.80" y="574.48" width="1.10" height="3.62" fill="#3a3af2"/>
<rect x="7.90" y="574.46" width="2.10" height="3.86" fill="#3a3af2"/>
<rect x="11.50" y="574.26" width="1.10" height="3.54" fill="#3a3af2"/>
<rect x="13.60" y="574.44" width="1.40" height="3.51" fill="#3a3af2"/>
<rect x="16.20" y="574.36" width="2.10" height="3.48" fill="#3a3af2"/>
<rect x="19.80" y="574.42" width="1.70" height="3.45" fill="#3a3af2"/>
<rect x="22.30" y="574.25" width="2.10" height="3.60" fill="#3a3af2"/>
<rect x="25.40" y="574.50" width="2.10" height="3.56" fill="#3a3af2"/>
<rect x="28.50" y="574.57" width="2.10" height="3.75" fill="#3a3af2"/>
<rect x="31.80" y="574.48" width="1.40" height="3.49" fill="#3a3af2"/>
<rect x="34.20" y="574.36" width="1.70" height="3.81" fill="#3a3af2"/>
<rect x="37.40" y="574.25" width="2.10" height="3.82" fill="#3a3af2"/>
<rect x="40.50" y="574.44" width="1.70" height="3.78" fill="#3a3af2"/>
<rect x="43.70" y="574.46" width="1.40" height="3.66" fill="#3a3af2"/>
<rect x="46.10" y="574.24" width="1.40" height="3.76" fill="#3a3af2"/>
<rect x="48.70" y="574.34" width="2.10" height="3.61" fill="#3a3af2"/>
<rect x="51.80" y="574.34" width="2.10" height="3.53" fill="#3a3af2"/>
<rect x="54.70" y="574.36" width="1.10" height="3.56" fill="#3a3af2"/>
<rect x="57.30" y="574.32" width="1.10" height="3.71" fill="#3a3af2"/>
<rect x="59.60" y="574.42" width="1.10" height="3.46" fill="#3a3af2"/>
<rect x="61.70" y="574.45" width="1.40" height="3.75" fill="#3a3af2"/>
<rect x="63.90" y="574.36" width="1.10" height="3.60" fill="#3a3af2"/>
<rect x="66.20" y="574.55" width="1.40" height="3.58" fill="#3a3af2"/>
<rect x="68.60" y="574.53" width="1.70" height="3.78" fill="#3a3af2"/>
<rect x="71.50" y="574.42" width="1.70" height="3.88" fill="#3a3af2"/>
<rect x="74.20" y="574.51" width="1.70" height="3.60" fill="#3a3af2"/>
<rect x="77.10" y="574.57" width="2.10" height="3.77" fill="#3a3af2"/>
<rect x="80.70" y="574.18" width="1.40" height="3.62" fill="#3a3af2"/>
<rect x="82.90" y="574.46" width="1.40" height="3.56" fill="#3a3af2"/>
<rect x="85.30" y="574.42" width="1.10" height="3.73" fill="#3a3af2"/>
<rect x="87.90" y="574.28" width="1.40" height="3.50" fill="#3a3af2"/>
<rect x="90.10" y="574.33" width="1.70" height="3.89" fill="#3a3af2"/>
<rect x="92.80" y="574.29" width="2.10" height="3.55" fill="#3a3af2"/>
<rect x="96.40" y="574.21" width="1.70" height="3.48" fill="#3a3af2"/>
<rect x="99.30" y="574.23" width="1.10" height="3.71" fill="#3a3af2"/>
<rect x="101.20" y="574.31" width="1.40" height="3.44" fill="#3a3af2"/>
<rect x="103.80" y="574.27" width="1.40" height="3.59" fill="#3a3af2"/>
<rect x="106.00" y="574.30" width="2.10" height="3.62" fill="#3a3af2"/>
<rect x="109.10" y="574.37" width="1.70" height="3.60" fill="#3a3af2"/>
<rect x="112.30" y="574.21" width="2.10" height="3.77" fill="#3a3af2"/>
<rect x="115.90" y="574.31" width="1.10" height="3.52" fill="#3a3af2"/>
<rect x="118.00" y="574.28" width="2.10" height="3.44" fill="#3a3af2"/>
<rect x="121.30" y="574.36" width="1.40" height="3.91" fill="#3a3af2"/>
<rect x="123.70" y="574.48" width="1.70" height="3.45" fill="#3a3af2"/>
<rect x="126.60" y="574.42" width="1.70" height="3.52" fill="#3a3af2"/>
<rect x="129.50" y="574.53" width="1.40" height="3.77" fill="#3a3af2"/>
<rect x="132.40" y="574.30" width="1.40" height="3.42" fill="#3a3af2"/>
<rect x="135.30" y="574.21" width="1.40" height="3.60" fill="#3a3af2"/>
<rect x="137.90" y="574.23" width="1.40" height="3.49" fill="#3a3af2"/>
<rect x="140.30" y="574.33" width="1.70" height="3.48" fill="#3a3af2"/>
<rect x="143.50" y="574.31" width="1.40" height="3.50" fill="#3a3af2"/>
<rect x="146.40" y="574.25" width="2.10" height="3.48" fill="#3a3af2"/>
<rect x="149.70" y="574.44" width="1.10" height="3.52" fill="#3a3af2"/>
<rect x="151.60" y="574.46" width="1.70" height="3.48" fill="#3a3af2"/>
<rect x="154.50" y="574.19" width="2.10" height="3.50" fill="#3a3af2"/>
<rect x="158.10" y="574.35" width="2.10" height="3.57" fill="#3a3af2"/>
<rect x="161.00" y="574.58" width="1.10" height="3.92" fill="#3a3af2"/>
<rect x="163.60" y="574.28" width="1.10" height="3.59" fill="#3a3af2"/>
<rect x="165.90" y="574.32" width="1.10" height="3.90" fill="#3a3af2"/>
<rect x="168.50" y="574.27" width="1.40" height="3.58" fill="#3a3af2"/>
<rect x="171.10" y="574.32" width="1.10" height="3.74" fill="#3a3af2"/>
<rect x="173.40" y="574.55" width="1.40" height="3.79" fill="#3a3af2"/>
<rect x="175.60" y="574.24" width="2.10" height="3.57" fill="#3a3af2"/>
<rect x="178.70" y="574.54" width="1.40" height="3.78" fill="#3a3af2"/>
<rect x="181.30" y="574.43" width="1.70" height="3.74" fill="#3a3af2"/>
<rect x="184.20" y="574.49" width="1.70" height="3.49" fill="#3a3af2"/>
<rect x="187.10" y="574.48" width="1.70" height="3.44" fill="#3a3af2"/>
<rect x="190.30" y="574.20" width="1.10" height="3.67" fill="#3a3af2"/>
<rect x="192.90" y="574.18" width="1.40" height="3.72" fill="#3a3af2"/>
<rect x="195.10" y="574.30" width="1.40" height="3.50" fill="#3a3af2"/>
<rect x="198.00" y="574.54" width="2.10" height="3.44" fill="#3a3af2"/>
<rect x="201.60" y="574.50" width="2.10" height="3.78" fill="#3a3af2"/>
<rect x="204.50" y="574.24" width="1.10" height="3.85" fill="#3a3af2"/>
<rect x="207.10" y="574.47" width="1.40" height="3.75" fill="#3a3af2"/>
<rect x="210.00" y="574.55" width="1.70" height="3.43" fill="#3a3af2"/>
<rect x="212.70" y="574.43" width="1.40" height="3.42" fill="#3a3af2"/>
<rect x="215.30" y="574.39" width="1.40" height="3.69" fill="#3a3af2"/>
<rect x="218.20" y="574.19" width="2.10" height="3.88" fill="#3a3af2"/>
<rect x="221.30" y="574.20" width="2.10" height="3.73" fill="#3a3af2"/>
<rect x="224.20" y="574.34" width="1.70" height="3.57" fill="#3a3af2"/>
<rect x="227.40" y="574.39" width="1.70" height="3.74" fill="#3a3af2"/>
<rect x="230.30" y="574.37" width="1.70" height="3.74" fill="#3a3af2"/>
<rect x="233.00" y="574.31" width="1.40" height="3.64" fill="#3a3af2"/>
<rect x="235.20" y="574.32" width="1.40" height="3.61" fill="#3a3af2"/>
<rect x="238.10" y="574.37" width="1.70" height="3.70" fill="#3a3af2"/>
<rect x="241.30" y="574.53" width="1.70" height="3.51" fill="#3a3af2"/>
<rect x="244.00" y="574.49" width="1.10" height="3.84" fill="#3a3af2"/>
<rect x="245.90" y="574.37" width="1.40" height="3.55" fill="#3a3af2"/>
<rect x="248.80" y="574.36" width="1.40" height="3.53" fill="#3a3af2"/>
<rect x="251.00" y="574.24" width="1.10" height="3.76" fill="#3a3af2"/>
<rect x="253.60" y="574.23" width="1.40" height="3.70" fill="#3a3af2"/>
<rect x="255.80" y="574.40" width="1.10" height="3.76" fill="#3a3af2"/>
<rect x="257.90" y="574.35" width="1.40" height="3.81" fill="#3a3af2"/>
<rect x="260.30" y="574.27" width="1.70" height="3.45" fill="#3a3af2"/>
<rect x="263.00" y="574.43" width="1.10" height="3.43" fill="#3a3af2"/>
<rect x="265.10" y="574.46" width="2.10" height="3.77" fill="#3a3af2"/>
<rect x="268.70" y="574.33" width="1.10" height="3.86" fill="#3a3af2"/>
<rect x="270.60" y="574.51" width="1.70" height="3.79" fill="#3a3af2"/>
<rect x="273.50" y="574.25" width="1.10" height="3.48" fill="#3a3af2"/>
<rect x="275.80" y="574.29" width="1.70" height="3.44" fill="#3a3af2"/>
<rect x="278.70" y="574.44" width="1.10" height="3.58" fill="#3a3af2"/>
<rect x="280.60" y="574.21" width="1.10" height="3.76" fill="#3a3af2"/>
<rect x="282.90" y="574.50" width="1.70" height="3.64" fill="#3a3af2"/>
<rect x="286.10" y="574.26" width="1.10" height="3.67" fill="#3a3af2"/>
<rect x="288.00" y="574.51" width="1.70" height="3.70" fill="#3a3af2"/>
<rect x="290.90" y="574.25" width="2.10" height="3.72" fill="#3a3af2"/>
<rect x="294.20" y="574.20" width="1.70" height="3.43" fill="#3a3af2"/>
<rect x="297.10" y="574.39" width="1.40" height="3.66" fill="#3a3af2"/>
<rect x="299.30" y="574.55" width="1.10" height="3.73" fill="#3a3af2"/>
<rect x="301.90" y="574.19" width="2.10" height="3.77" fill="#3a3af2"/>
<rect x="305.50" y="574.49" width="2.10" height="3.90" fill="#3a3af2"/>
<rect x="308.40" y="574.45" width="1.70" height="3.53" fill="#3a3af2"/>
<rect x="311.10" y="574.50" width="1.10" height="3.83" fill="#3a3af2"/>
<rect x="313.70" y="574.35" width="1.70" height="3.62" fill="#3a3af2"/>
<rect x="316.60" y="574.58" width="1.70" height="3.71" fill="#3a3af2"/>
<rect x="319.50" y="574.57" width="1.40" height="3.65" fill="#3a3af2"/>
<rect x="321.70" y="574.29" width="1.40" height="3.49" fill="#3a3af2"/>
<rect x="324.60" y="574.55" width="1.70" height="3.92" fill="#3a3af2"/>
<rect x="327.50" y="574.18" width="1.40" height="3.44" fill="#3a3af2"/>
<rect x="329.70" y="574.27" width="1.40" height="3.74" fill="#3a3af2"/>
<rect x="331.90" y="574.26" width="1.70" height="3.82" fill="#3a3af2"/>
<rect x="334.60" y="574.31" width="1.40" height="3.57" fill="#3a3af2"/>
<rect x="337.20" y="574.38" width="1.70" height="3.74" fill="#3a3af2"/>
<rect x="340.10" y="574.45" width="2.10" height="3.77" fill="#3a3af2"/>
<rect x="343.40" y="574.38" width="2.10" height="3.87" fill="#3a3af2"/>
<rect x="346.50" y="574.52" width="1.70" height="3.52" fill="#3a3af2"/>
<rect x="349.70" y="574.40" width="2.10" height="3.71" fill="#3a3af2"/>
<rect x="353.00" y="574.35" width="1.40" height="3.49" fill="#3a3af2"/>
<rect x="355.60" y="574.29" width="1.70" height="3.70" fill="#3a3af2"/>
<rect x="358.50" y="574.21" width="1.10" height="3.71" fill="#3a3af2"/>
<rect x="360.40" y="574.46" width="1.40" height="3.60" fill="#3a3af2"/>
<rect x="363.30" y="574.19" width="1.70" height="3.77" fill="#3a3af2"/>
<rect x="365.80" y="574.45" width="2.10" height="3.51" fill="#3a3af2"/>
<rect x="369.10" y="574.28" width="1.10" height="3.73" fill="#3a3af2"/>
<rect x="371.20" y="574.49" width="1.10" height="3.62" fill="#3a3af2"/>
<rect x="373.30" y="574.23" width="1.70" height="3.75" fill="#3a3af2"/>
<rect x="376.00" y="574.29" width="1.40" height="3.90" fill="#3a3af2"/>
<rect x="378.20" y="574.55" width="1.10" height="3.83" fill="#3a3af2"/>
<rect x="380.50" y="574.58" width="1.40" height="3.56" fill="#3a3af2"/>
<rect x="382.70" y="574.21" width="1.70" height="3.53" fill="#3a3af2"/>
<rect x="385.60" y="574.32" width="1.10" height="3.62" fill="#3a3af2"/>
<rect x="387.90" y="574.56" width="1.40" height="3.63" fill="#3a3af2"/>
<rect x="390.10" y="574.33" width="1.10" height="3.59" fill="#3a3af2"/>
<rect x="392.70" y="574.48" width="2.10" height="3.65" fill="#3a3af2"/>
<rect x="395.60" y="574.21" width="1.10" height="3.70" fill="#3a3af2"/>
<rect x="397.90" y="574.41" width="1.10" height="3.78" fill="#3a3af2"/>
<rect x="400.20" y="574.54" width="1.40" height="3.50" fill="#3a3af2"/>
<rect x="402.60" y="574.44" width="1.10" height="3.60" fill="#3a3af2"/>
<rect x="404.90" y="574.32" width="1.40" height="3.72" fill="#3a3af2"/>
<rect x="407.50" y="574.28" width="1.40" height="3.55" fill="#3a3af2"/>
<rect x="410.40" y="574.27" width="1.10" height="3.58" fill="#3a3af2"/>
<rect x="413.00" y="574.44" width="1.70" height="3.69" fill="#3a3af2"/>
<rect x="415.90" y="574.48" width="1.40" height="3.70" fill="#3a3af2"/>
<rect x="418.10" y="574.52" width="1.70" height="3.74" fill="#3a3af2"/>
<rect x="421.30" y="574.21" width="1.10" height="3.73" fill="#3a3af2"/>
<rect x="423.20" y="574.36" width="1.10" height="3.52" fill="#3a3af2"/>
<rect x="425.30" y="574.20" width="1.70" height="3.60" fill="#3a3af2"/>
<rect x="428.00" y="574.23" width="1.40" height="3.85" fill="#3a3af2"/>
<rect x="430.40" y="574.44" width="1.10" height="3.78" fill="#3a3af2"/>
<rect x="433.00" y="574.49" width="2.10" height="3.88" fill="#3a3af2"/>
<rect x="436.60" y="574.50" width="2.10" height="3.82" fill="#3a3af2"/>
<rect x="439.50" y="574.32" width="1.10" height="3.43" fill="#3a3af2"/>
<rect x="442.10" y="574.56" width="1.70" height="3.70" fill="#3a3af2"/>
<rect x="445.30" y="574.20" width="2.10" height="3.73" fill="#3a3af2"/>
<rect x="448.40" y="574.48" width="1.10" height="3.55" fill="#3a3af2"/>
<rect x="451.00" y="574.49" width="1.40" height="3.52" fill="#3a3af2"/>
<rect x="453.90" y="574.46" width="1.70" height="3.92" fill="#3a3af2"/>
<rect x="456.60" y="574.39" width="1.40" height="3.89" fill="#3a3af2"/>
<rect x="459.20" y="574.25" width="1.40" height="3.56" fill="#3a3af2"/>
<rect x="461.80" y="574.39" width="1.10" height="3.87" fill="#3a3af2"/>
<rect x="463.90" y="574.31" width="1.70" height="3.72" fill="#3a3af2"/>
<rect x="467.10" y="574.35" width="1.40" height="3.86" fill="#3a3af2"/>
<rect x="469.50" y="574.56" width="1.70" height="3.81" fill="#3a3af2"/>
<rect x="472.70" y="574.41" width="1.40" height="3.49" fill="#3a3af2"/>
<rect x="475.30" y="574.26" width="1.10" height="3.50" fill="#3a3af2"/>
<rect x="477.20" y="574.22" width="1.40" height="3.50" fill="#3a3af2"/>
<rect x="479.80" y="574.28" width="1.10" height="3.65" fill="#3a3af2"/>
<rect x="482.40" y="574.41" width="1.10" height="3.74" fill="#3a3af2"/>
<rect x="485.00" y="574.19" width="1.70" height="3.44" fill="#3a3af2"/>
<rect x="487.70" y="574.26" width="1.40" height="3.77" fill="#3a3af2"/>
<rect x="489.90" y="574.38" width="1.40" height="3.54" fill="#3a3af2"/>
<rect x="492.80" y="574.29" width="1.10" height="3.45" fill="#3a3af2"/>
<rect x="495.10" y="574.23" width="1.10" height="3.48" fill="#3a3af2"/>
<rect x="497.70" y="574.37" width="1.40" height="3.42" fill="#3a3af2"/>
<rect x="500.10" y="574.33" width="1.40" height="3.69" fill="#3a3af2"/>
<rect x="502.30" y="574.24" width="1.70" height="3.90" fill="#3a3af2"/>
<rect x="504.80" y="574.19" width="1.70" height="3.85" fill="#3a3af2"/>
<rect x="507.50" y="574.47" width="1.10" height="3.51" fill="#3a3af2"/>
<rect x="509.80" y="574.55" width="1.70" height="3.44" fill="#3a3af2"/>
<rect x="512.30" y="574.26" width="2.10" height="3.90" fill="#3a3af2"/>
<rect x="515.60" y="574.45" width="1.10" height="3.44" fill="#3a3af2"/>
<rect x="518.20" y="574.36" width="1.70" height="3.77" fill="#3a3af2"/>
<rect x="521.10" y="574.41" width="2.10" height="3.69" fill="#3a3af2"/>
<rect x="524.70" y="574.43" width="1.40" height="3.61" fill="#3a3af2"/>
<rect x="527.60" y="574.22" width="1.40" height="3.74" fill="#3a3af2"/>
<rect x="530.00" y="574.30" width="1.70" height="3.79" fill="#3a3af2"/>
<rect x="532.70" y="574.31" width="1.40" height="3.46" fill="#3a3af2"/>
<rect x="534.90" y="574.42" width="1.10" height="3.70" fill="#3a3af2"/>
<rect x="537.50" y="574.40" width="1.70" height="3.71" fill="#3a3af2"/>
<rect x="540.70" y="574.38" width="2.10" height="3.72" fill="#3a3af2"/>
<rect x="544.30" y="574.25" width="1.40" height="3.82" fill="#3a3af2"/>
<rect x="547.20" y="574.30" width="1.70" height="3.62" fill="#3a3af2"/>
<rect x="550.10" y="574.55" width="1.70" height="3.82" fill="#3a3af2"/>
<rect x="552.80" y="574.48" width="1.70" height="3.84" fill="#3a3af2"/>
<rect x="555.70" y="574.35" width="2.10" height="3.92" fill="#3a3af2"/>
<rect x="558.60" y="574.37" width="1.70" height="3.69" fill="#3a3af2"/>
<rect x="5.60" y="544.12" width="556.00" height="2.97" fill="#1a1af8"/>
<line x1="5.00" y1="735.48" x2="562.00" y2="735.48" stroke="#2e8e2e" stroke-width="0.95"/>
<line x1="19.65" y1="473.05" x2="19.65" y2="735.48" stroke="#1f7f1f" stroke-width="2.0"/>
<line x1="47.38" y1="726.56" x2="47.38" y2="735.48" stroke="#1f7f1f" stroke-width="1"/>
<line x1="46.45" y1="730.93" x2="46.45" y2="735.48" stroke="#1f7f1f" stroke-width="1.0"/>
<line x1="75.22" y1="631.71" x2="75.22" y2="735.48" stroke="#1f7f1f" stroke-width="1.2"/>
<line x1="74.29" y1="722.19" x2="74.29" y2="735.48" stroke="#1f7f1f" stroke-width="1.0"/>
<line x1="103.27" y1="726.13" x2="103.27" y2="735.48" stroke="#1f7f1f" stroke-width="1"/>
<line x1="102.33" y1="730.93" x2="102.33" y2="735.48" stroke="#1f7f1f" stroke-width="1.0"/>
<line x1="131.11" y1="649.20" x2="131.11" y2="735.48" stroke="#1f7f1f" stroke-width="1.2"/>
<line x1="130.17" y1="706.02" x2="130.17" y2="735.48" stroke="#1f7f1f" stroke-width="1.0"/>
<line x1="158.74" y1="721.76" x2="158.74" y2="735.48" stroke="#1f7f1f" stroke-width="1"/>
<line x1="157.81" y1="729.19" x2="157.81" y2="735.48" stroke="#1f7f1f" stroke-width="1.0"/>
<line x1="186.37" y1="593.69" x2="186.37" y2="735.48" stroke="#1f7f1f" stroke-width="1.2"/>
<line x1="185.44" y1="728.31" x2="185.44" y2="735.48" stroke="#1f7f1f" stroke-width="1.0"/>
<line x1="214.00" y1="580.57" x2="214.00" y2="735.48" stroke="#1f7f1f" stroke-width="1.2"/>
<line x1="213.07" y1="731.81" x2="213.07" y2="735.48" stroke="#1f7f1f" stroke-width="1.0"/>
<line x1="241.84" y1="703.83" x2="241.84" y2="735.48" stroke="#1f7f1f" stroke-width="1.1"/>
<line x1="240.91" y1="726.56" x2="240.91" y2="735.48" stroke="#1f7f1f" stroke-width="1.0"/>
<line x1="269.48" y1="650.07" x2="269.48" y2="735.48" stroke="#1f7f1f" stroke-width="1.2"/>
<line x1="268.54" y1="724.82" x2="268.54" y2="735.48" stroke="#1f7f1f" stroke-width="1.0"/>
<line x1="297.11" y1="726.56" x2="297.11" y2="735.48" stroke="#1f7f1f" stroke-width="1"/>
<line x1="296.17" y1="731.81" x2="296.17" y2="735.48" stroke="#1f7f1f" stroke-width="1.0"/>
<line x1="324.95" y1="678.48" x2="324.95" y2="735.48" stroke="#1f7f1f" stroke-width="1.1"/>
<line x1="324.01" y1="730.93" x2="324.01" y2="735.48" stroke="#1f7f1f" stroke-width="1.0"/>
<line x1="353.41" y1="692.91" x2="353.41" y2="735.48" stroke="#1f7f1f" stroke-width="1.1"/>
<line x1="352.48" y1="728.31" x2="352.48" y2="735.48" stroke="#1f7f1f" stroke-width="1.0"/>
<line x1="381.46" y1="673.24" x2="381.46" y2="735.48" stroke="#1f7f1f" stroke-width="1.2"/>
<line x1="380.52" y1="730.06" x2="380.52" y2="735.48" stroke="#1f7f1f" stroke-width="1.0"/>
<line x1="409.30" y1="702.52" x2="409.30" y2="735.48" stroke="#1f7f1f" stroke-width="1.1"/>
<line x1="408.36" y1="730.06" x2="408.36" y2="735.48" stroke="#1f7f1f" stroke-width="1.0"/>
<line x1="437.14" y1="699.46" x2="437.14" y2="735.48" stroke="#1f7f1f" stroke-width="1.1"/>
<line x1="436.20" y1="729.19" x2="436.20" y2="735.48" stroke="#1f7f1f" stroke-width="1.0"/>
<line x1="464.77" y1="710.39" x2="464.77" y2="735.48" stroke="#1f7f1f" stroke-width="1.1"/>
<line x1="463.83" y1="730.93" x2="463.83" y2="735.48" stroke="#1f7f1f" stroke-width="1.0"/>
<line x1="492.61" y1="716.95" x2="492.61" y2="735.48" stroke="#1f7f1f" stroke-width="1.1"/>
<line x1="491.67" y1="730.93" x2="491.67" y2="735.48" stroke="#1f7f1f" stroke-width="1.0"/>
<line x1="520.66" y1="681.11" x2="520.66" y2="735.48" stroke="#1f7f1f" stroke-width="1.1"/>
<line x1="519.72" y1="730.06" x2="519.72" y2="735.48" stroke="#1f7f1f" stroke-width="1.0"/>
<line x1="548.50" y1="698.59" x2="548.50" y2="735.48" stroke="#1f7f1f" stroke-width="1.1"/>
<line x1="547.56" y1="730.06" x2="547.56" y2="735.48" stroke="#1f7f1f" stroke-width="1.0"/>
<rect x="-3.7" y="536.9" width="7.7" height="19.8" rx="1.5" fill="#a4a4ff" stroke="#5454f0" stroke-width="0.9"/>
<path d="M-1.6 533.7 H3.3 M0.8 533.7 V537.7" stroke="#3a3af0" stroke-width="1" fill="none"/>
<path d="M-0.6 542.1 L4.0 545.6 L-0.6 549.1 Z" fill="#2222e8"/>
<rect x="-3.7" y="724.6" width="7.7" height="17.3" rx="1.5" fill="#d6d694" stroke="#b8b878" stroke-width="0.6"/>
<path d="M-0.8 732.2 L4.0 735.5 L-0.8 738.8 Z" fill="#1c7a1c"/>
<path d="M277.8 472.0 L290.0 472.0 L283.9 477.1 Z" fill="#2a78f0"/>
<line x1="-3.73" y1="472.50" x2="562.00" y2="472.50" stroke="#4e4e4e" stroke-width="1.2"/>
<line x1="561.50" y1="472.00" x2="561.50" y2="768.00" stroke="#5c5c5c" stroke-width="1.0"/>
<line x1="-3.73" y1="767.50" x2="562.00" y2="767.50" stroke="#7e7e7e" stroke-width="1.0"/>
<line x1="-3.73" y1="768.45" x2="562.00" y2="768.45" stroke="#9c9c9c" stroke-width="0.9"/>
<line x1="5.10" y1="472.00" x2="5.10" y2="768.00" stroke="#6e6e6e" stroke-width="2.1"/>
<text x="-3.933606863110779" y="467.2" font-family="'Liberation Sans',Arial,sans-serif" font-size="12.6" fill="#2030e0" textLength="4.2" lengthAdjust="spacingAndGlyphs">1</text>
<text x="14.349123461395001" y="467.2" font-family="'Liberation Sans',Arial,sans-serif" font-size="12.6" fill="#585858" textLength="37.18873554643789" lengthAdjust="spacingAndGlyphs">50.0V/</text>
<text x="67.95076464005967" y="467.2" font-family="'Liberation Sans',Arial,sans-serif" font-size="12.6" fill="#e040f0" textLength="6" lengthAdjust="spacingAndGlyphs">2</text>
<text x="141.08168593808279" y="467.2" font-family="'Liberation Sans',Arial,sans-serif" font-size="12.6" fill="#d89a40" textLength="6" lengthAdjust="spacingAndGlyphs">3</text>
<text x="213.7970906378217" y="467.2" font-family="'Liberation Sans',Arial,sans-serif" font-size="12.6" fill="#40e0e0" textLength="5.6" lengthAdjust="spacingAndGlyphs">4</text>
<text x="365.2528907124207" y="467.2" font-family="'Liberation Sans',Arial,sans-serif" font-size="12.6" fill="#585858" textLength="16.62066393136888" lengthAdjust="spacingAndGlyphs">0.0</text>
<text x="382.4968295412159" y="467.2" font-family="'Liberation Sans',Arial,sans-serif" font-size="9.4" fill="#585858">s</text>
<text x="427.58038045505407" y="467.2" font-family="'Liberation Sans',Arial,sans-serif" font-size="12.6" fill="#585858" textLength="30.54046997389031" lengthAdjust="spacingAndGlyphs">1.000</text>
<text x="458.74412532637075" y="467.2" font-family="'Liberation Sans',Arial,sans-serif" font-size="9.4" fill="#585858">s</text>
<text x="463.7303245057814" y="467.2" font-family="'Liberation Sans',Arial,sans-serif" font-size="12.6" fill="#585858">/</text>
<text x="507.982842223051" y="467.2" font-family="'Liberation Sans',Arial,sans-serif" font-size="12.6" fill="#585858" textLength="23.684446102200752" lengthAdjust="spacingAndGlyphs">Auto</text>
<path d="M568.8 467.0 H572.0 V459.7 H574.8" fill="none" stroke="#262626" stroke-width="1.1"/>
<path d="M569.0 465.3 L572.0 461.1 L575.0 465.3 Z" fill="#262626"/>
<text x="593.994778067885" y="467.2" font-family="'Liberation Sans',Arial,sans-serif" font-size="12.6" fill="#2030e0" textLength="4.6" lengthAdjust="spacingAndGlyphs">1</text>
<text x="632.0145468108915" y="467.2" font-family="'Liberation Sans',Arial,sans-serif" font-size="12.6" fill="#585858" textLength="25.762029093621663" lengthAdjust="spacingAndGlyphs">-400</text>
<text x="658.3998508019396" y="462.8" font-family="'Liberation Sans',Arial,sans-serif" font-size="6.4" fill="#3a3a3a" font-weight="bold" textLength="4.2" lengthAdjust="spacingAndGlyphs">m</text>
<text x="658.3998508019396" y="466.9" font-family="'Liberation Sans',Arial,sans-serif" font-size="6.4" fill="#3a3a3a" font-weight="bold" textLength="4.2" lengthAdjust="spacingAndGlyphs">V</text>
<rect x="564.2" y="472.8" width="119.5" height="294.9" rx="5" ry="5" fill="#e8e8e8" stroke="#b0b0b0" stroke-width="1.8"/>
<path d="M570.5 487.2 L570.5 487.4 L570.6 487.5 L570.7 487.7 L570.8 487.9 L570.8 488.1 L570.9 488.3 L571.0 488.6 L571.1 488.8 L571.2 489.1 L571.3 489.3 L571.4 489.6 L571.5 489.9 L571.7 490.2 L571.8 490.4 L572.7 490.9 L573.7 490.9 L574.4 490.4 L574.9 489.9 L575.3 489.4 L575.7 488.8 L576.0 488.2 L576.4 487.6 L576.7 486.9 L577.0 486.2 L577.3 485.6 L577.5 485.0 L577.8 484.4 L578.1 483.9 L578.3 483.4 L578.5 483.1 L578.1 483.4 L576.9 483.2 L576.4 483.1 L576.5 483.3 L576.8 483.9 L577.1 484.7 L577.4 485.6 L577.7 486.6 L578.0 487.7 L578.4 488.9 L578.7 490.0 L579.1 491.1 L579.4 492.2 L579.8 493.2 L580.1 494.1 L580.5 495.0 L581.3 496.2 L583.2 497.1 L584.7 495.9 L585.4 494.8 L585.9 493.7 L586.3 492.6 L586.7 491.4 L587.1 490.1 L587.6 488.7 L588.0 487.3 L588.4 486.0 L588.8 484.7 L589.2 483.4 L589.6 482.3 L589.9 481.3 L590.3 480.5 L590.4 480.2 L589.7 480.3 L588.5 480.3 L588.4 480.3 L588.7 481.0 L589.0 481.8 L589.3 482.7 L589.6 483.7 L589.9 484.8 L590.3 485.9 L590.6 487.1 L591.0 488.2 L591.3 489.3 L591.7 490.4 L592.0 491.3 L592.4 492.2 L593.0 493.2 L594.2 494.2 L596.0 493.7 L596.9 492.8 L597.3 492.2 L597.6 491.5 L597.9 490.8 L598.2 490.1 L598.5 489.4 L598.8 488.7 L599.0 488.0 L599.3 487.3 L599.5 486.6 L599.7 486.0 L599.8 485.6 L600.0 485.2 L600.1 484.9 L599.9 484.9 L599.1 485.1 L598.5 484.7 L598.6 484.8 L598.8 484.9 L598.9 485.0 L599.1 485.2 L599.3 485.4 L599.5 485.6 L599.7 485.9 L599.9 486.1 L600.1 486.3 L600.3 486.5 L600.6 486.7 L600.8 486.8 L601.0 486.9 L601.2 487.0 L601.6 486.6 L601.5 486.4 L601.5 486.3 L601.4 486.1 L601.4 485.9 L601.3 485.6 L601.2 485.3 L601.2 485.1 L601.1 484.8 L601.0 484.5 L600.9 484.2 L600.8 483.9 L600.7 483.6 L600.6 483.3 L600.5 483.0 L599.6 482.3 L598.5 482.3 L597.8 482.9 L597.3 483.4 L596.9 484.0 L596.5 484.5 L596.2 485.2 L595.8 485.9 L595.5 486.6 L595.2 487.3 L595.0 488.0 L594.7 488.7 L594.4 489.3 L594.2 489.9 L594.0 490.3 L593.8 490.7 L594.1 490.5 L595.4 490.6 L595.9 490.7 L595.8 490.5 L595.5 489.8 L595.2 489.0 L594.9 488.1 L594.6 487.1 L594.3 486.0 L593.9 484.9 L593.6 483.7 L593.2 482.6 L592.9 481.5 L592.5 480.4 L592.2 479.5 L591.8 478.6 L591.0 477.5 L589.1 476.5 L587.6 477.7 L586.9 478.8 L586.4 479.9 L586.0 481.0 L585.6 482.2 L585.2 483.5 L584.7 484.9 L584.3 486.3 L583.9 487.6 L583.5 488.9 L583.1 490.2 L582.7 491.3 L582.4 492.3 L582.0 493.1 L581.9 493.4 L582.6 493.3 L583.8 493.3 L583.9 493.3 L583.6 492.7 L583.3 491.9 L583.0 491.0 L582.7 490.0 L582.4 488.9 L582.0 487.7 L581.7 486.6 L581.3 485.5 L581.0 484.4 L580.6 483.4 L580.3 482.5 L579.9 481.6 L579.3 480.6 L578.1 479.6 L576.3 480.0 L575.4 480.9 L575.0 481.5 L574.7 482.1 L574.4 482.7 L574.1 483.4 L573.8 484.1 L573.5 484.8 L573.2 485.4 L573.0 486.1 L572.8 486.7 L572.6 487.2 L572.4 487.7 L572.3 488.0 L572.2 488.2 L572.3 488.3 L573.0 488.1 L573.6 488.4 L573.4 488.4 L573.3 488.3 L573.1 488.2 L572.9 488.1 L572.7 487.9 L572.5 487.8 L572.3 487.6 L572.1 487.4 L571.9 487.3 L571.6 487.1 L571.4 487.0 L571.2 486.9 L571.0 486.8 L570.7 486.8 Z" fill="#1cf6d0" stroke="#1cf6d0" stroke-width="0.6" stroke-linejoin="round"/>
<text x="607" y="487.2" font-family="'Liberation Sans',Arial,sans-serif" font-size="12.6" fill="#111" font-weight="bold" textLength="69.5" lengthAdjust="spacingAndGlyphs">KEYSIGHT</text>
<text x="607.3" y="495.2" font-family="'Liberation Sans',Arial,sans-serif" font-size="7.0" fill="#111" textLength="67.6" lengthAdjust="spacingAndGlyphs" stroke="#111" stroke-width="0.25">TECHNOLOGIES</text>
<rect x="564.90" y="501.80" width="118.10" height="14.60" fill="#a5a19e"/>
<text x="623.6" y="513.1" font-family="'Liberation Sans',Arial,sans-serif" font-size="12.4" fill="#3c3c3c" text-anchor="middle" textLength="56" lengthAdjust="spacingAndGlyphs">Acquisition</text>
<rect x="568.20" y="507.40" width="1.20" height="1.20" fill="#8a8784"/>
<rect x="571.20" y="507.40" width="1.20" height="1.20" fill="#8a8784"/>
<rect x="568.20" y="508.60" width="1.20" height="0.70" fill="#bdbab7"/>
<rect x="571.20" y="508.60" width="1.20" height="0.70" fill="#bdbab7"/>
<rect x="568.20" y="509.80" width="1.20" height="1.20" fill="#8a8784"/>
<rect x="571.20" y="509.80" width="1.20" height="1.20" fill="#8a8784"/>
<rect x="568.20" y="511.00" width="1.20" height="0.70" fill="#bdbab7"/>
<rect x="571.20" y="511.00" width="1.20" height="0.70" fill="#bdbab7"/>
<rect x="568.20" y="512.20" width="1.20" height="1.20" fill="#8a8784"/>
<rect x="571.20" y="512.20" width="1.20" height="1.20" fill="#8a8784"/>
<rect x="568.20" y="513.40" width="1.20" height="0.70" fill="#bdbab7"/>
<rect x="571.20" y="513.40" width="1.20" height="0.70" fill="#bdbab7"/>
<rect x="675.20" y="507.40" width="1.20" height="1.20" fill="#8a8784"/>
<rect x="678.20" y="507.40" width="1.20" height="1.20" fill="#8a8784"/>
<rect x="675.20" y="508.60" width="1.20" height="0.70" fill="#bdbab7"/>
<rect x="678.20" y="508.60" width="1.20" height="0.70" fill="#bdbab7"/>
<rect x="675.20" y="509.80" width="1.20" height="1.20" fill="#8a8784"/>
<rect x="678.20" y="509.80" width="1.20" height="1.20" fill="#8a8784"/>
<rect x="675.20" y="511.00" width="1.20" height="0.70" fill="#bdbab7"/>
<rect x="678.20" y="511.00" width="1.20" height="0.70" fill="#bdbab7"/>
<rect x="675.20" y="512.20" width="1.20" height="1.20" fill="#8a8784"/>
<rect x="678.20" y="512.20" width="1.20" height="1.20" fill="#8a8784"/>
<rect x="675.20" y="513.40" width="1.20" height="0.70" fill="#bdbab7"/>
<rect x="678.20" y="513.40" width="1.20" height="0.70" fill="#bdbab7"/>
<rect x="564.90" y="560.60" width="118.10" height="15.20" fill="#a5a19e"/>
<text x="623.6" y="572.5" font-family="'Liberation Sans',Arial,sans-serif" font-size="12.4" fill="#3c3c3c" text-anchor="middle" textLength="45" lengthAdjust="spacingAndGlyphs">Channels</text>
<rect x="568.20" y="566.20" width="1.20" height="1.20" fill="#8a8784"/>
<rect x="571.20" y="566.20" width="1.20" height="1.20" fill="#8a8784"/>
<rect x="568.20" y="567.40" width="1.20" height="0.70" fill="#bdbab7"/>
<rect x="571.20" y="567.40" width="1.20" height="0.70" fill="#bdbab7"/>
<rect x="568.20" y="568.60" width="1.20" height="1.20" fill="#8a8784"/>
<rect x="571.20" y="568.60" width="1.20" height="1.20" fill="#8a8784"/>
<rect x="568.20" y="569.80" width="1.20" height="0.70" fill="#bdbab7"/>
<rect x="571.20" y="569.80" width="1.20" height="0.70" fill="#bdbab7"/>
<rect x="568.20" y="571.00" width="1.20" height="1.20" fill="#8a8784"/>
<rect x="571.20" y="571.00" width="1.20" height="1.20" fill="#8a8784"/>
<rect x="568.20" y="572.20" width="1.20" height="0.70" fill="#bdbab7"/>
<rect x="571.20" y="572.20" width="1.20" height="0.70" fill="#bdbab7"/>
<rect x="675.20" y="566.20" width="1.20" height="1.20" fill="#8a8784"/>
<rect x="678.20" y="566.20" width="1.20" height="1.20" fill="#8a8784"/>
<rect x="675.20" y="567.40" width="1.20" height="0.70" fill="#bdbab7"/>
<rect x="678.20" y="567.40" width="1.20" height="0.70" fill="#bdbab7"/>
<rect x="675.20" y="568.60" width="1.20" height="1.20" fill="#8a8784"/>
<rect x="678.20" y="568.60" width="1.20" height="1.20" fill="#8a8784"/>
<rect x="675.20" y="569.80" width="1.20" height="0.70" fill="#bdbab7"/>
<rect x="678.20" y="569.80" width="1.20" height="0.70" fill="#bdbab7"/>
<rect x="675.20" y="571.00" width="1.20" height="1.20" fill="#8a8784"/>
<rect x="678.20" y="571.00" width="1.20" height="1.20" fill="#8a8784"/>
<rect x="675.20" y="572.20" width="1.20" height="0.70" fill="#bdbab7"/>
<rect x="678.20" y="572.20" width="1.20" height="0.70" fill="#bdbab7"/>
<rect x="564.90" y="634.40" width="118.10" height="15.00" fill="#a5a19e"/>
<text x="623.6" y="646.1" font-family="'Liberation Sans',Arial,sans-serif" font-size="12.4" fill="#3c3c3c" text-anchor="middle" textLength="17.5" lengthAdjust="spacingAndGlyphs">FFT</text>
<rect x="568.20" y="640.00" width="1.20" height="1.20" fill="#8a8784"/>
<rect x="571.20" y="640.00" width="1.20" height="1.20" fill="#8a8784"/>
<rect x="568.20" y="641.20" width="1.20" height="0.70" fill="#bdbab7"/>
<rect x="571.20" y="641.20" width="1.20" height="0.70" fill="#bdbab7"/>
<rect x="568.20" y="642.40" width="1.20" height="1.20" fill="#8a8784"/>
<rect x="571.20" y="642.40" width="1.20" height="1.20" fill="#8a8784"/>
<rect x="568.20" y="643.60" width="1.20" height="0.70" fill="#bdbab7"/>
<rect x="571.20" y="643.60" width="1.20" height="0.70" fill="#bdbab7"/>
<rect x="568.20" y="644.80" width="1.20" height="1.20" fill="#8a8784"/>
<rect x="571.20" y="644.80" width="1.20" height="1.20" fill="#8a8784"/>
<rect x="568.20" y="646.00" width="1.20" height="0.70" fill="#bdbab7"/>
<rect x="571.20" y="646.00" width="1.20" height="0.70" fill="#bdbab7"/>
<rect x="675.20" y="640.00" width="1.20" height="1.20" fill="#8a8784"/>
<rect x="678.20" y="640.00" width="1.20" height="1.20" fill="#8a8784"/>
<rect x="675.20" y="641.20" width="1.20" height="0.70" fill="#bdbab7"/>
<rect x="678.20" y="641.20" width="1.20" height="0.70" fill="#bdbab7"/>
<rect x="675.20" y="642.40" width="1.20" height="1.20" fill="#8a8784"/>
<rect x="678.20" y="642.40" width="1.20" height="1.20" fill="#8a8784"/>
<rect x="675.20" y="643.60" width="1.20" height="0.70" fill="#bdbab7"/>
<rect x="678.20" y="643.60" width="1.20" height="0.70" fill="#bdbab7"/>
<rect x="675.20" y="644.80" width="1.20" height="1.20" fill="#8a8784"/>
<rect x="678.20" y="644.80" width="1.20" height="1.20" fill="#8a8784"/>
<rect x="675.20" y="646.00" width="1.20" height="0.70" fill="#bdbab7"/>
<rect x="678.20" y="646.00" width="1.20" height="0.70" fill="#bdbab7"/>
<rect x="564.90" y="694.60" width="118.10" height="14.00" fill="#a5a19e"/>
<text x="623.6" y="705.3000000000001" font-family="'Liberation Sans',Arial,sans-serif" font-size="12.4" fill="#3c3c3c" text-anchor="middle" textLength="15.5" lengthAdjust="spacingAndGlyphs">Ref</text>
<rect x="568.20" y="700.20" width="1.20" height="1.20" fill="#8a8784"/>
<rect x="571.20" y="700.20" width="1.20" height="1.20" fill="#8a8784"/>
<rect x="568.20" y="701.40" width="1.20" height="0.70" fill="#bdbab7"/>
<rect x="571.20" y="701.40" width="1.20" height="0.70" fill="#bdbab7"/>
<rect x="568.20" y="702.60" width="1.20" height="1.20" fill="#8a8784"/>
<rect x="571.20" y="702.60" width="1.20" height="1.20" fill="#8a8784"/>
<rect x="568.20" y="703.80" width="1.20" height="0.70" fill="#bdbab7"/>
<rect x="571.20" y="703.80" width="1.20" height="0.70" fill="#bdbab7"/>
<rect x="568.20" y="705.00" width="1.20" height="1.20" fill="#8a8784"/>
<rect x="571.20" y="705.00" width="1.20" height="1.20" fill="#8a8784"/>
<rect x="568.20" y="706.20" width="1.20" height="0.70" fill="#bdbab7"/>
<rect x="571.20" y="706.20" width="1.20" height="0.70" fill="#bdbab7"/>
<rect x="675.20" y="700.20" width="1.20" height="1.20" fill="#8a8784"/>
<rect x="678.20" y="700.20" width="1.20" height="1.20" fill="#8a8784"/>
<rect x="675.20" y="701.40" width="1.20" height="0.70" fill="#bdbab7"/>
<rect x="678.20" y="701.40" width="1.20" height="0.70" fill="#bdbab7"/>
<rect x="675.20" y="702.60" width="1.20" height="1.20" fill="#8a8784"/>
<rect x="678.20" y="702.60" width="1.20" height="1.20" fill="#8a8784"/>
<rect x="675.20" y="703.80" width="1.20" height="0.70" fill="#bdbab7"/>
<rect x="678.20" y="703.80" width="1.20" height="0.70" fill="#bdbab7"/>
<rect x="675.20" y="705.00" width="1.20" height="1.20" fill="#8a8784"/>
<rect x="678.20" y="705.00" width="1.20" height="1.20" fill="#8a8784"/>
<rect x="675.20" y="706.20" width="1.20" height="0.70" fill="#bdbab7"/>
<rect x="678.20" y="706.20" width="1.20" height="0.70" fill="#bdbab7"/>
<text x="623.4" y="527.9" font-family="'Liberation Sans',Arial,sans-serif" font-size="12.4" fill="#444" text-anchor="middle" textLength="37" lengthAdjust="spacingAndGlyphs">Normal</text>
<text x="623.2" y="542.8" font-family="'Liberation Sans',Arial,sans-serif" font-size="12.4" fill="#444" text-anchor="middle" textLength="50" lengthAdjust="spacingAndGlyphs">100kSa/s</text>
<text x="567.4" y="587.3" font-family="'Liberation Sans',Arial,sans-serif" font-size="12.4" fill="#2424f0" textLength="13.8" lengthAdjust="spacingAndGlyphs">DC</text>
<text x="679" y="587.3" font-family="'Liberation Sans',Arial,sans-serif" font-size="12.4" fill="#2424f0" text-anchor="end" textLength="31.4" lengthAdjust="spacingAndGlyphs">10.0:1</text>
<text x="567.4" y="602.05" font-family="'Liberation Sans',Arial,sans-serif" font-size="12.4" fill="#d034e0" textLength="13.8" lengthAdjust="spacingAndGlyphs">DC</text>
<text x="679" y="602.05" font-family="'Liberation Sans',Arial,sans-serif" font-size="12.4" fill="#d034e0" text-anchor="end" textLength="31.4" lengthAdjust="spacingAndGlyphs">10.0:1</text>
<text x="567.4" y="616.8" font-family="'Liberation Sans',Arial,sans-serif" font-size="12.4" fill="#cc8a22" textLength="13.8" lengthAdjust="spacingAndGlyphs">DC</text>
<text x="679" y="616.8" font-family="'Liberation Sans',Arial,sans-serif" font-size="12.4" fill="#cc8a22" text-anchor="end" textLength="31.4" lengthAdjust="spacingAndGlyphs">10.0:1</text>
<text x="567.4" y="631.55" font-family="'Liberation Sans',Arial,sans-serif" font-size="12.4" fill="#28e6d0" textLength="13.8" lengthAdjust="spacingAndGlyphs">DC</text>
<text x="679" y="631.55" font-family="'Liberation Sans',Arial,sans-serif" font-size="12.4" fill="#28e6d0" text-anchor="end" textLength="31.4" lengthAdjust="spacingAndGlyphs">10.0:1</text>
<text x="623.6" y="662.3" font-family="'Liberation Sans',Arial,sans-serif" font-size="12.4" fill="#2a7a2a" text-anchor="middle" textLength="45.5" lengthAdjust="spacingAndGlyphs">FFT(Ch1)</text>
<text x="567.4" y="677" font-family="'Liberation Sans',Arial,sans-serif" font-size="12.4" fill="#2a7a2a" textLength="35" lengthAdjust="spacingAndGlyphs">2.00V/</text>
<text x="680" y="677" font-family="'Liberation Sans',Arial,sans-serif" font-size="12.4" fill="#2a7a2a" text-anchor="end" textLength="40" lengthAdjust="spacingAndGlyphs">1.00kHz</text>
<text x="568" y="691.7" font-family="'Liberation Sans',Arial,sans-serif" font-size="12.4" fill="#2a7a2a" textLength="29.4" lengthAdjust="spacingAndGlyphs">6.25V</text>
<text x="680" y="691.7" font-family="'Liberation Sans',Arial,sans-serif" font-size="12.4" fill="#2a7a2a" text-anchor="end" textLength="31.5" lengthAdjust="spacingAndGlyphs">500Hz</text>
<text x="567.4" y="721.2" font-family="'Liberation Sans',Arial,sans-serif" font-size="12.4" fill="#a8a8a8" textLength="15.5" lengthAdjust="spacingAndGlyphs">R1:</text>
<text x="592.6" y="721.2" font-family="'Liberation Sans',Arial,sans-serif" font-size="12.4" fill="#a8a8a8" textLength="35" lengthAdjust="spacingAndGlyphs">5.00V/</text>
<text x="680" y="721.2" font-family="'Liberation Sans',Arial,sans-serif" font-size="12.4" fill="#a8a8a8" text-anchor="end" textLength="23.6" lengthAdjust="spacingAndGlyphs">0.0V</text>
<text x="567.4" y="735.7" font-family="'Liberation Sans',Arial,sans-serif" font-size="12.4" fill="#a8a8a8" textLength="15.5" lengthAdjust="spacingAndGlyphs">R2:</text>
<text x="592.6" y="735.7" font-family="'Liberation Sans',Arial,sans-serif" font-size="12.4" fill="#a8a8a8" textLength="35" lengthAdjust="spacingAndGlyphs">5.00V/</text>
<text x="680" y="735.7" font-family="'Liberation Sans',Arial,sans-serif" font-size="12.4" fill="#a8a8a8" text-anchor="end" textLength="23.6" lengthAdjust="spacingAndGlyphs">0.0V</text>
</g>
<text x="342.9" y="1561.2" font-family="'Liberation Serif','Times New Roman',serif" font-size="27.4" fill="#000" text-anchor="middle" font-weight="bold">(d)</text>
</g>
</svg></body></html>
